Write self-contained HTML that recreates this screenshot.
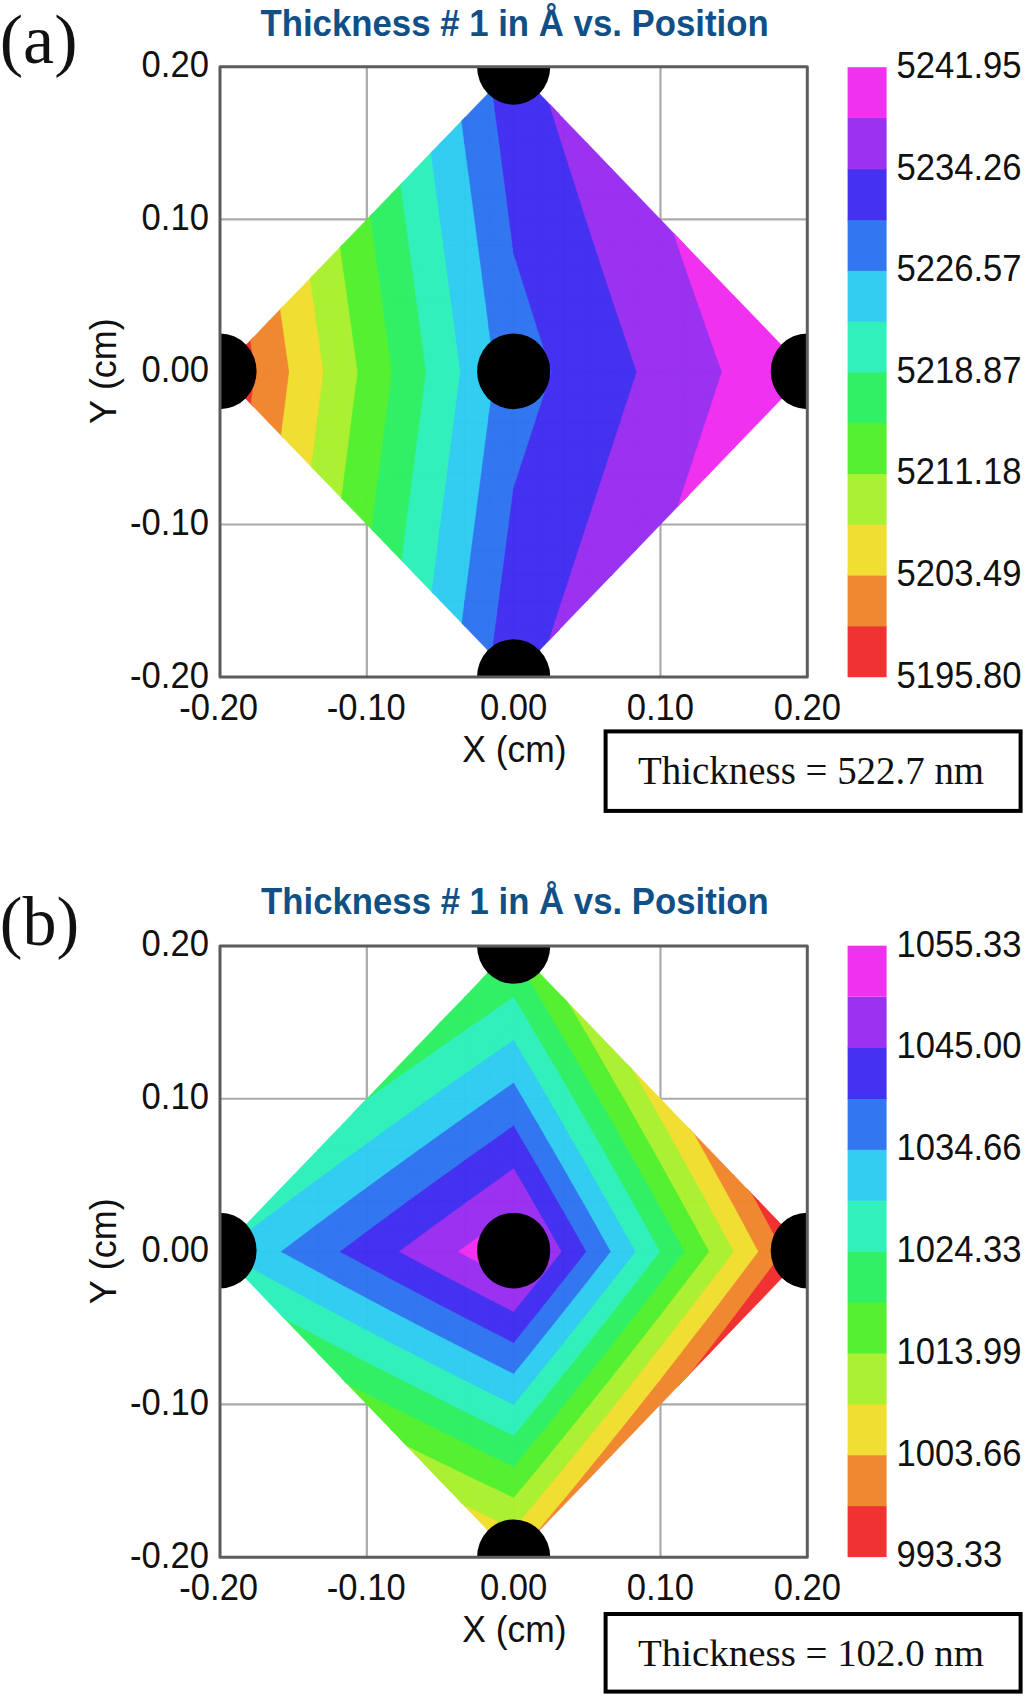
<!DOCTYPE html>
<html><head><meta charset="utf-8"><title>Thickness maps</title>
<style>html,body{margin:0;padding:0;background:#fff;overflow:hidden;}svg{display:block;}text{font-kerning:none;}</style></head>
<body><svg width="1025" height="1696" viewBox="0 0 1025 1696">
<rect width="1025" height="1696" fill="#fff"/>
<text x="0" y="0" font-family="'Liberation Sans', Arial, sans-serif" font-weight="bold" font-size="34.788" fill="#115086" transform="translate(260.41,35.50) scale(1,1.0445)">Thickness # 1 in Å vs. Position</text>
<text x="0" y="0" font-family="'Liberation Serif', 'Times New Roman', serif" font-weight="normal" font-size="70.061" fill="#111" transform="translate(-0.28,63.12) scale(1,1.0043)">(a)</text>
<line x1="366.82" y1="66.8" x2="366.82" y2="677.1" stroke="#aaaaaa" stroke-width="2.2"/>
<line x1="220" y1="219.38" x2="807.3" y2="219.38" stroke="#aaaaaa" stroke-width="2.2"/>
<line x1="513.65" y1="66.8" x2="513.65" y2="677.1" stroke="#aaaaaa" stroke-width="2.2"/>
<line x1="220" y1="371.95" x2="807.3" y2="371.95" stroke="#aaaaaa" stroke-width="2.2"/>
<line x1="660.47" y1="66.8" x2="660.47" y2="677.1" stroke="#aaaaaa" stroke-width="2.2"/>
<line x1="220" y1="524.52" x2="807.3" y2="524.52" stroke="#aaaaaa" stroke-width="2.2"/>
<path d="M257.8,371.9L244.5,371.9L256.1,359.9ZM244.5,371.9L244.5,346.5L254.1,346.5L256.1,359.9ZM254.1,346.5L244.5,346.5L252.9,337.8ZM244.5,371.9L220.0,371.9L244.5,346.5ZM256.3,384.2L244.5,371.9L257.8,371.9ZM254.6,397.4L244.5,397.4L244.5,371.9L256.3,384.2ZM244.5,371.9L244.5,397.4L220.0,371.9ZM253.4,406.7L244.5,397.4L254.6,397.4Z" fill="#f03232" stroke="#f03232" stroke-width="0.5" stroke-linejoin="round"/>
<path d="M292.1,371.9L268.9,371.9L289.1,351.0ZM268.9,371.9L268.9,346.5L288.4,346.5L289.1,351.0ZM288.4,346.5L268.9,346.5L285.9,328.9ZM268.9,346.5L268.9,321.1L284.7,321.1L285.9,328.9ZM284.7,321.1L268.9,321.1L282.7,306.8ZM268.9,371.9L255.1,371.9L253.7,362.3L268.9,346.5ZM251.4,346.5L268.9,346.5L253.7,362.3ZM268.9,346.5L251.4,346.5L250.5,340.3L268.9,321.1ZM289.4,393.2L268.9,371.9L292.1,371.9ZM288.8,397.4L268.9,397.4L268.9,371.9L289.4,393.2ZM268.9,371.9L268.9,397.4L253.9,381.7L255.1,371.9ZM268.9,397.4L251.9,397.4L253.9,381.7ZM286.5,415.6L268.9,397.4L288.8,397.4ZM285.6,422.8L268.9,422.8L268.9,397.4L286.5,415.6ZM268.9,397.4L268.9,422.8L251.0,404.2L251.9,397.4ZM283.6,438.1L268.9,422.8L285.6,422.8Z" fill="#f08832" stroke="#f08832" stroke-width="0.5" stroke-linejoin="round"/>
<path d="M326.3,371.9L317.9,371.9L325.2,364.3ZM317.9,371.9L317.9,346.5L322.7,346.5L325.2,364.3ZM322.7,346.5L317.9,346.5L322.1,342.2ZM317.9,346.5L317.9,321.1L319.1,321.1L322.1,342.2ZM319.1,321.1L317.9,321.1L318.9,320.0ZM317.9,321.1L317.9,312.7L318.9,320.0ZM317.9,371.9L293.4,371.9L317.9,346.5ZM293.4,371.9L293.4,346.5L317.9,346.5ZM317.9,346.5L293.4,346.5L317.9,321.1ZM293.4,346.5L293.4,321.1L317.9,321.1ZM317.9,321.1L293.4,321.1L315.8,297.9L317.9,312.7ZM293.4,321.1L293.4,295.7L315.5,295.7L315.8,297.9ZM315.5,295.7L293.4,295.7L312.6,275.7ZM293.4,371.9L289.3,371.9L286.7,353.5L293.4,346.5ZM285.7,346.5L293.4,346.5L286.7,353.5ZM293.4,346.5L285.7,346.5L283.5,331.4L293.4,321.1ZM282.0,321.1L293.4,321.1L283.5,331.4ZM293.4,321.1L282.0,321.1L280.3,309.3L293.4,295.7ZM325.3,379.7L317.9,371.9L326.3,371.9ZM323.0,397.4L317.9,397.4L317.9,371.9L325.3,379.7ZM317.9,371.9L317.9,397.4L293.4,371.9ZM317.9,397.4L293.4,397.4L293.4,371.9ZM293.4,371.9L293.4,397.4L286.9,390.7L289.3,371.9ZM293.4,397.4L286.1,397.4L286.9,390.7ZM322.4,402.1L317.9,397.4L323.0,397.4ZM319.8,422.8L317.9,422.8L317.9,397.4L322.4,402.1ZM317.9,397.4L317.9,422.8L293.4,397.4ZM317.9,422.8L293.4,422.8L293.4,397.4ZM293.4,397.4L293.4,422.8L284.1,413.1L286.1,397.4ZM293.4,422.8L282.8,422.8L284.1,413.1ZM319.5,424.5L317.9,422.8L319.8,422.8ZM317.9,437.5L317.9,422.8L319.5,424.5ZM317.9,422.8L317.9,437.5L316.7,447.0L293.4,422.8ZM316.5,448.2L293.4,448.2L293.4,422.8L316.7,447.0ZM293.4,422.8L293.4,448.2L281.2,435.6L282.8,422.8ZM313.8,469.4L293.4,448.2L316.5,448.2Z" fill="#f0de32" stroke="#f0de32" stroke-width="0.5" stroke-linejoin="round"/>
<path d="M360.5,371.9L342.4,371.9L358.2,355.5ZM342.4,371.9L342.4,346.5L357.0,346.5L358.2,355.5ZM357.0,346.5L342.4,346.5L355.1,333.2ZM342.4,346.5L342.4,321.1L353.4,321.1L355.1,333.2ZM353.4,321.1L342.4,321.1L352.0,311.0ZM342.4,321.1L342.4,295.7L349.9,295.7L352.0,311.0ZM349.9,295.7L342.4,295.7L348.9,288.8ZM342.4,295.7L342.4,270.2L346.3,270.2L348.9,288.8ZM346.3,270.2L342.4,270.2L345.8,266.7ZM342.4,270.2L342.4,244.8L342.7,244.8L345.8,266.7ZM342.7,244.8L342.4,244.8L342.6,244.5ZM342.4,371.9L323.6,371.9L322.8,366.8L342.4,346.5ZM320.0,346.5L342.4,346.5L322.8,366.8ZM342.4,346.5L320.0,346.5L319.7,344.6L342.4,321.1ZM317.9,332.0L317.9,321.1L342.4,321.1L319.7,344.6ZM342.4,321.1L317.9,321.1L342.4,295.7ZM317.9,321.1L317.9,295.7L342.4,295.7ZM342.4,295.7L317.9,295.7L342.4,270.2ZM317.9,295.7L317.9,270.2L342.4,270.2ZM342.4,270.2L317.9,270.2L342.4,244.8ZM316.5,322.5L317.9,321.1L317.9,332.0ZM316.3,321.1L317.9,321.1L316.5,322.5ZM317.9,321.1L316.3,321.1L313.4,300.3L317.9,295.7ZM312.7,295.7L317.9,295.7L313.4,300.3ZM317.9,295.7L312.7,295.7L310.2,278.2L317.9,270.2ZM358.4,388.6L342.4,371.9L360.5,371.9ZM357.2,397.4L342.4,397.4L342.4,371.9L358.4,388.6ZM342.4,371.9L342.4,397.4L322.9,377.1L323.6,371.9ZM342.4,397.4L320.3,397.4L322.9,377.1ZM355.5,411.0L342.4,397.4L357.2,397.4ZM354.0,422.8L342.4,422.8L342.4,397.4L355.5,411.0ZM342.4,397.4L342.4,422.8L320.0,399.6L320.3,397.4ZM342.4,422.8L317.9,422.8L317.9,416.2L320.0,399.6ZM317.9,416.2L317.9,422.8L317.1,422.0ZM317.9,422.8L317.0,422.8L317.1,422.0ZM352.6,433.4L342.4,422.8L354.0,422.8ZM350.7,448.2L342.4,448.2L342.4,422.8L352.6,433.4ZM342.4,422.8L342.4,448.2L317.9,422.8ZM342.4,448.2L317.9,448.2L317.9,422.8ZM317.9,422.8L317.9,448.2L314.3,444.5L317.0,422.8ZM317.9,448.2L313.8,448.2L314.3,444.5ZM349.7,455.9L342.4,448.2L350.7,448.2ZM347.4,473.7L342.4,473.7L342.4,448.2L349.7,455.9ZM342.4,448.2L342.4,473.7L317.9,448.2ZM342.4,473.7L317.9,473.7L317.9,448.2ZM317.9,448.2L317.9,473.7L311.4,466.9L313.8,448.2ZM346.8,478.3L342.4,473.7L347.4,473.7ZM344.2,499.1L342.4,499.1L342.4,473.7L346.8,478.3ZM342.4,473.7L342.4,499.1L317.9,473.7ZM343.9,500.7L342.4,499.1L344.2,499.1Z" fill="#abf032" stroke="#abf032" stroke-width="0.5" stroke-linejoin="round"/>
<path d="M394.7,371.9L391.3,371.9L394.3,368.8ZM391.3,371.9L391.3,346.8L394.3,368.8ZM391.3,371.9L366.8,371.9L391.3,346.6L391.3,346.8ZM366.8,371.9L366.8,346.5L391.3,346.5L391.3,346.6ZM391.3,346.5L366.8,346.5L388.2,324.3ZM366.8,346.5L366.8,321.1L387.8,321.1L388.2,324.3ZM387.8,321.1L366.8,321.1L385.2,302.0ZM366.8,321.1L366.8,295.7L384.3,295.7L385.2,302.0ZM384.3,295.7L366.8,295.7L382.1,279.8ZM366.8,295.7L366.8,270.2L380.7,270.2L382.1,279.8ZM380.7,270.2L366.8,270.2L379.0,257.6ZM366.8,270.2L366.8,244.8L377.2,244.8L379.0,257.6ZM377.2,244.8L366.8,244.8L375.9,235.4ZM366.8,244.8L366.8,219.4L373.7,219.4L375.9,235.4ZM373.7,219.4L366.8,219.4L372.8,213.1ZM366.8,371.9L357.8,371.9L355.8,357.9L366.8,346.5ZM354.2,346.5L366.8,346.5L355.8,357.9ZM366.8,346.5L354.2,346.5L352.7,335.7L366.8,321.1ZM350.7,321.1L366.8,321.1L352.7,335.7ZM366.8,321.1L350.7,321.1L349.6,313.5L366.8,295.7ZM347.1,295.7L366.8,295.7L349.6,313.5ZM366.8,295.7L347.1,295.7L346.5,291.3L366.8,270.2ZM343.5,270.2L366.8,270.2L346.5,291.3ZM366.8,270.2L343.5,270.2L343.4,269.2L366.8,244.8ZM342.4,261.9L342.4,244.8L366.8,244.8L343.4,269.2ZM366.8,244.8L342.4,244.8L366.8,219.4ZM340.2,247.0L342.4,244.8L342.4,261.9ZM394.3,375.1L391.3,371.9L394.7,371.9ZM391.4,397.4L391.3,397.4L391.3,371.9L394.3,375.1ZM391.3,371.9L391.3,397.4L366.8,371.9ZM391.3,397.4L366.8,397.4L366.8,371.9ZM366.8,371.9L366.8,397.4L356.0,386.1L357.8,371.9ZM366.8,397.4L354.5,397.4L356.0,386.1ZM391.4,397.5L391.3,397.4L391.4,397.4ZM391.3,398.6L391.3,397.4L391.4,397.5ZM391.3,397.4L391.3,398.6L388.5,419.9L366.8,397.4ZM388.2,422.8L366.8,422.8L366.8,397.4L388.5,419.9ZM366.8,397.4L366.8,422.8L353.1,408.5L354.5,397.4ZM366.8,422.8L351.2,422.8L353.1,408.5ZM385.6,442.4L366.8,422.8L388.2,422.8ZM384.9,448.2L366.8,448.2L366.8,422.8L385.6,442.4ZM366.8,422.8L366.8,448.2L350.2,430.9L351.2,422.8ZM366.8,448.2L348.0,448.2L350.2,430.9ZM382.7,464.8L366.8,448.2L384.9,448.2ZM381.6,473.7L366.8,473.7L366.8,448.2L382.7,464.8ZM366.8,448.2L366.8,473.7L347.3,453.4L348.0,448.2ZM366.8,473.7L344.7,473.7L347.3,453.4ZM379.8,487.2L366.8,473.7L381.6,473.7ZM378.3,499.1L366.8,499.1L366.8,473.7L379.8,487.2ZM366.8,473.7L366.8,499.1L344.4,475.8L344.7,473.7ZM366.8,499.1L342.4,499.1L342.4,491.8L344.4,475.8ZM342.4,491.8L342.4,499.1L341.5,498.2ZM377.0,509.6L366.8,499.1L378.3,499.1ZM375.0,524.5L366.8,524.5L366.8,499.1L377.0,509.6ZM366.8,499.1L366.8,524.5L342.4,499.1ZM374.1,532.0L366.8,524.5L375.0,524.5Z" fill="#55f032" stroke="#55f032" stroke-width="0.5" stroke-linejoin="round"/>
<path d="M429.0,371.9L415.8,371.9L427.4,359.9ZM415.8,371.9L415.8,346.5L425.5,346.5L427.4,359.9ZM425.5,346.5L415.8,346.5L424.3,337.6ZM415.8,346.5L415.8,321.1L422.1,321.1L424.3,337.6ZM422.1,321.1L415.8,321.1L421.3,315.3ZM415.8,321.1L415.8,295.7L418.7,295.7L421.3,315.3ZM418.7,295.7L415.8,295.7L418.3,293.0ZM415.8,295.7L415.8,274.3L418.3,293.0ZM415.8,371.9L392.0,371.9L391.9,371.3L415.8,346.5ZM391.3,366.8L391.3,346.5L415.8,346.5L391.9,371.3ZM415.8,346.5L391.3,346.5L415.8,321.1ZM391.3,346.5L391.3,321.1L415.8,321.1ZM415.8,321.1L391.3,321.1L415.8,295.7ZM391.3,321.1L391.3,295.7L415.8,295.7ZM415.8,295.7L391.3,295.7L415.3,270.7L415.8,274.3ZM391.3,295.7L391.3,270.2L415.2,270.2L415.3,270.7ZM415.2,270.2L391.3,270.2L412.3,248.5ZM391.3,270.2L391.3,244.8L411.7,244.8L412.3,248.5ZM411.7,244.8L391.3,244.8L409.2,226.2ZM391.3,244.8L391.3,219.4L408.3,219.4L409.2,226.2ZM408.3,219.4L391.3,219.4L406.2,203.9ZM391.3,219.4L391.3,193.9L404.8,193.9L406.2,203.9ZM404.8,193.9L391.3,193.9L403.1,181.7ZM388.9,349.0L391.3,346.5L391.3,366.8ZM388.5,346.5L391.3,346.5L388.9,349.0ZM391.3,346.5L388.5,346.5L385.8,326.8L391.3,321.1ZM385.0,321.1L391.3,321.1L385.8,326.8ZM391.3,321.1L385.0,321.1L382.7,304.5L391.3,295.7ZM381.5,295.7L391.3,295.7L382.7,304.5ZM391.3,295.7L381.5,295.7L379.7,282.3L391.3,270.2ZM378.0,270.2L391.3,270.2L379.7,282.3ZM391.3,270.2L378.0,270.2L376.6,260.1L391.3,244.8ZM374.5,244.8L391.3,244.8L376.6,260.1ZM391.3,244.8L374.5,244.8L373.5,237.9L391.3,219.4ZM370.9,219.4L391.3,219.4L373.5,237.9ZM391.3,219.4L370.9,219.4L370.4,215.7L391.3,193.9ZM427.4,384.0L415.8,371.9L429.0,371.9ZM425.7,397.4L415.8,397.4L415.8,371.9L427.4,384.0ZM415.8,371.9L415.8,397.4L391.9,372.6L392.0,371.9ZM415.8,397.4L391.3,397.4L391.3,377.4L391.9,372.6ZM391.3,377.4L391.3,397.4L389.0,395.0ZM391.3,397.4L388.7,397.4L389.0,395.0ZM424.5,406.4L415.8,397.4L425.7,397.4ZM422.4,422.8L415.8,422.8L415.8,397.4L424.5,406.4ZM415.8,397.4L415.8,422.8L391.3,397.4ZM415.8,422.8L391.3,422.8L391.3,397.4ZM391.3,397.4L391.3,422.8L386.1,417.4L388.7,397.4ZM391.3,422.8L385.4,422.8L386.1,417.4ZM421.6,428.8L415.8,422.8L422.4,422.8ZM419.1,448.2L415.8,448.2L415.8,422.8L421.6,428.8ZM415.8,422.8L415.8,448.2L391.3,422.8ZM415.8,448.2L391.3,448.2L391.3,422.8ZM391.3,422.8L391.3,448.2L383.2,439.8L385.4,422.8ZM391.3,448.2L382.1,448.2L383.2,439.8ZM418.7,451.2L415.8,448.2L419.1,448.2ZM415.8,473.6L415.8,448.2L418.7,451.2ZM415.8,448.2L415.8,473.6L415.8,473.7L391.3,448.2ZM415.8,473.7L391.3,473.7L391.3,448.2L415.8,473.7ZM391.3,448.2L391.3,473.7L380.3,462.3L382.1,448.2ZM391.3,473.7L378.9,473.7L380.3,462.3ZM412.9,496.1L391.3,473.7L415.8,473.7ZM412.5,499.1L391.3,499.1L391.3,473.7L412.9,496.1ZM391.3,473.7L391.3,499.1L377.4,484.7L378.9,473.7ZM391.3,499.1L375.6,499.1L377.4,484.7ZM410.0,518.5L391.3,499.1L412.5,499.1ZM409.2,524.5L391.3,524.5L391.3,499.1L410.0,518.5ZM391.3,499.1L391.3,524.5L374.5,507.1L375.6,499.1ZM391.3,524.5L372.3,524.5L374.5,507.1ZM407.1,540.9L391.3,524.5L409.2,524.5ZM405.9,550.0L391.3,550.0L391.3,524.5L407.1,540.9ZM391.3,524.5L391.3,550.0L371.7,529.5L372.3,524.5ZM404.2,563.3L391.3,550.0L405.9,550.0Z" fill="#32f066" stroke="#32f066" stroke-width="0.5" stroke-linejoin="round"/>
<path d="M463.2,371.9L440.2,371.9L460.4,351.0ZM440.2,371.9L440.2,346.5L459.8,346.5L460.4,351.0ZM459.8,346.5L440.2,346.5L457.5,328.6ZM440.2,346.5L440.2,321.1L456.5,321.1L457.5,328.6ZM456.5,321.1L440.2,321.1L454.5,306.3ZM440.2,321.1L440.2,295.7L453.1,295.7L454.5,306.3ZM453.1,295.7L440.2,295.7L451.5,283.9ZM440.2,295.7L440.2,270.2L449.7,270.2L451.5,283.9ZM449.7,270.2L440.2,270.2L448.5,261.6ZM440.2,270.2L440.2,244.8L446.3,244.8L448.5,261.6ZM446.3,244.8L440.2,244.8L445.5,239.3ZM440.2,244.8L440.2,219.4L442.9,219.4L445.5,239.3ZM442.9,219.4L440.2,219.4L442.5,217.0ZM440.2,219.4L440.2,200.0L442.5,217.0ZM440.2,371.9L426.2,371.9L424.9,362.4L440.2,346.5ZM422.8,346.5L440.2,346.5L424.9,362.4ZM440.2,346.5L422.8,346.5L421.9,340.1L440.2,321.1ZM419.4,321.1L440.2,321.1L421.9,340.1ZM440.2,321.1L419.4,321.1L418.9,317.8L440.2,295.7ZM415.9,295.7L440.2,295.7L418.9,317.8ZM440.2,295.7L415.9,295.7L415.9,295.5L440.2,270.2ZM415.8,294.6L415.8,270.2L440.2,270.2L415.9,295.5ZM440.2,270.2L415.8,270.2L440.2,244.8ZM415.8,270.2L415.8,244.8L440.2,244.8ZM440.2,244.8L415.8,244.8L440.2,219.4ZM415.8,244.8L415.8,219.4L440.2,219.4ZM440.2,219.4L415.8,219.4L439.5,194.7L440.2,200.0ZM415.8,219.4L415.8,193.9L439.4,193.9L439.5,194.7ZM439.4,193.9L415.8,193.9L436.5,172.4ZM415.8,193.9L415.8,168.5L436.0,168.5L436.5,172.4ZM436.0,168.5L415.8,168.5L433.5,150.1ZM412.9,273.2L415.8,270.2L415.8,294.6ZM412.5,270.2L415.8,270.2L412.9,273.2ZM415.8,270.2L412.5,270.2L409.8,251.0L415.8,244.8ZM409.0,244.8L415.8,244.8L409.8,251.0ZM415.8,244.8L409.0,244.8L406.8,228.7L415.8,219.4ZM405.5,219.4L415.8,219.4L406.8,228.7ZM415.8,219.4L405.5,219.4L403.7,206.5L415.8,193.9ZM402.0,193.9L415.8,193.9L403.7,206.5ZM415.8,193.9L402.0,193.9L400.7,184.2L415.8,168.5ZM460.4,392.9L440.2,371.9L463.2,371.9ZM459.9,397.4L440.2,397.4L440.2,371.9L460.4,392.9ZM440.2,371.9L440.2,397.4L425.0,381.5L426.2,371.9ZM440.2,397.4L422.9,397.4L425.0,381.5ZM457.5,415.3L440.2,397.4L459.9,397.4ZM456.6,422.8L440.2,422.8L440.2,397.4L457.5,415.3ZM440.2,397.4L440.2,422.8L422.1,403.9L422.9,397.4ZM440.2,422.8L419.6,422.8L422.1,403.9ZM454.6,437.7L440.2,422.8L456.6,422.8ZM453.2,448.2L440.2,448.2L440.2,422.8L454.6,437.7ZM440.2,422.8L440.2,448.2L419.2,426.3L419.6,422.8ZM440.2,448.2L416.3,448.2L419.2,426.3ZM451.7,460.1L440.2,448.2L453.2,448.2ZM449.9,473.7L440.2,473.7L440.2,448.2L451.7,460.1ZM440.2,448.2L440.2,473.7L416.3,448.7L416.3,448.2ZM440.2,473.7L415.8,473.7L415.8,452.5L416.3,448.7ZM415.8,452.5L415.8,473.7L413.4,471.2ZM415.8,473.7L413.0,473.7L413.4,471.2ZM448.8,482.5L440.2,473.7L449.9,473.7ZM446.6,499.1L440.2,499.1L440.2,473.7L448.8,482.5ZM440.2,473.7L440.2,499.1L415.8,473.7ZM440.2,499.1L415.8,499.1L415.8,473.7ZM415.8,473.7L415.8,499.1L410.4,493.6L413.0,473.7ZM415.8,499.1L409.7,499.1L410.4,493.6ZM445.9,504.9L440.2,499.1L446.6,499.1ZM443.3,524.5L440.2,524.5L440.2,499.1L445.9,504.9ZM440.2,499.1L440.2,524.5L415.8,499.1ZM440.2,524.5L415.8,524.5L415.8,499.1ZM415.8,499.1L415.8,524.5L407.5,516.0L409.7,499.1ZM415.8,524.5L406.4,524.5L407.5,516.0ZM443.0,527.3L440.2,524.5L443.3,524.5ZM440.2,548.3L440.2,524.5L443.0,527.3ZM440.2,524.5L440.2,548.3L440.0,549.8L415.8,524.5ZM440.0,550.0L415.8,550.0L415.8,524.5L440.0,549.8ZM415.8,524.5L415.8,550.0L404.6,538.4L406.4,524.5ZM415.8,550.0L403.2,550.0L404.6,538.4ZM437.1,572.2L415.8,550.0L440.0,550.0ZM436.7,575.4L415.8,575.4L415.8,550.0L437.1,572.2ZM415.8,550.0L415.8,575.4L401.8,560.8L403.2,550.0ZM434.2,594.6L415.8,575.4L436.7,575.4Z" fill="#32f0bc" stroke="#32f0bc" stroke-width="0.5" stroke-linejoin="round"/>
<path d="M497.4,371.9L489.2,371.9L496.4,364.4ZM489.2,371.9L489.2,346.5L494.1,346.5L496.4,364.4ZM494.1,346.5L489.2,346.5L493.5,342.0ZM489.2,346.5L489.2,321.1L490.8,321.1L493.5,342.0ZM490.8,321.1L489.2,321.1L490.6,319.6ZM489.2,321.1L489.2,308.7L490.6,319.6ZM489.2,371.9L464.7,371.9L489.2,346.5ZM464.7,371.9L464.7,346.5L489.2,346.5ZM489.2,346.5L464.7,346.5L489.2,321.1ZM464.7,346.5L464.7,321.1L489.2,321.1ZM489.2,321.1L464.7,321.1L487.7,297.2L489.2,308.7ZM464.7,321.1L464.7,295.7L487.5,295.7L487.7,297.2ZM487.5,295.7L464.7,295.7L484.8,274.8ZM464.7,295.7L464.7,270.2L484.1,270.2L484.8,274.8ZM484.1,270.2L464.7,270.2L481.8,252.5ZM464.7,270.2L464.7,244.8L480.8,244.8L481.8,252.5ZM480.8,244.8L464.7,244.8L478.9,230.1ZM464.7,244.8L464.7,219.4L477.4,219.4L478.9,230.1ZM477.4,219.4L464.7,219.4L475.9,207.7ZM464.7,219.4L464.7,193.9L474.1,193.9L475.9,207.7ZM474.1,193.9L464.7,193.9L472.9,185.4ZM464.7,193.9L464.7,168.5L470.7,168.5L472.9,185.4ZM470.7,168.5L464.7,168.5L470.0,163.0ZM464.7,168.5L464.7,143.1L467.3,143.1L470.0,163.0ZM467.3,143.1L464.7,143.1L467.0,140.7ZM464.7,143.1L464.7,123.7L467.0,140.7ZM464.7,371.9L460.4,371.9L458.0,353.5L464.7,346.5ZM457.1,346.5L464.7,346.5L458.0,353.5ZM464.7,346.5L457.1,346.5L455.1,331.1L464.7,321.1ZM453.7,321.1L464.7,321.1L455.1,331.1ZM464.7,321.1L453.7,321.1L452.1,308.8L464.7,295.7ZM450.3,295.7L464.7,295.7L452.1,308.8ZM464.7,295.7L450.3,295.7L449.1,286.5L464.7,270.2ZM446.9,270.2L464.7,270.2L449.1,286.5ZM464.7,270.2L446.9,270.2L446.1,264.1L464.7,244.8ZM443.5,244.8L464.7,244.8L446.1,264.1ZM464.7,244.8L443.5,244.8L443.1,241.8L464.7,219.4ZM440.2,220.5L440.2,219.4L464.7,219.4L443.1,241.8ZM464.7,219.4L440.2,219.4L464.7,193.9ZM440.2,219.4L440.2,193.9L464.7,193.9ZM464.7,193.9L440.2,193.9L464.7,168.5ZM440.2,193.9L440.2,168.5L464.7,168.5ZM464.7,168.5L440.2,168.5L464.7,143.1ZM440.2,168.5L440.2,143.1L464.7,143.1ZM464.7,143.1L440.2,143.1L464.0,118.4L464.7,123.7ZM440.1,219.5L440.2,219.4L440.2,220.5ZM440.1,219.4L440.2,219.4L440.1,219.5ZM440.2,219.4L440.1,219.4L437.1,197.2L440.2,193.9ZM436.7,193.9L440.2,193.9L437.1,197.2ZM440.2,193.9L436.7,193.9L434.1,174.9L440.2,168.5ZM433.2,168.5L440.2,168.5L434.1,174.9ZM440.2,168.5L433.2,168.5L431.1,152.6L440.2,143.1ZM496.4,379.5L489.2,371.9L497.4,371.9ZM494.1,397.4L489.2,397.4L489.2,371.9L496.4,379.5ZM489.2,371.9L489.2,397.4L464.7,371.9ZM489.2,397.4L464.7,397.4L464.7,371.9ZM464.7,371.9L464.7,397.4L458.0,390.4L460.4,371.9ZM464.7,397.4L457.1,397.4L458.0,390.4ZM493.5,401.9L489.2,397.4L494.1,397.4ZM490.7,422.8L489.2,422.8L489.2,397.4L493.5,401.9ZM489.2,397.4L489.2,422.8L464.7,397.4ZM489.2,422.8L464.7,422.8L464.7,397.4ZM464.7,397.4L464.7,422.8L455.1,412.8L457.1,397.4ZM464.7,422.8L453.8,422.8L455.1,412.8ZM490.6,424.2L489.2,422.8L490.7,422.8ZM489.2,434.8L489.2,422.8L490.6,424.2ZM489.2,422.8L489.2,434.8L487.6,446.6L464.7,422.8ZM487.4,448.2L464.7,448.2L464.7,422.8L487.6,446.6ZM464.7,422.8L464.7,448.2L452.2,435.2L453.8,422.8ZM464.7,448.2L450.5,448.2L452.2,435.2ZM484.7,469.0L464.7,448.2L487.4,448.2ZM484.1,473.7L464.7,473.7L464.7,448.2L484.7,469.0ZM464.7,448.2L464.7,473.7L449.3,457.6L450.5,448.2ZM464.7,473.7L447.2,473.7L449.3,457.6ZM481.8,491.4L464.7,473.7L484.1,473.7ZM480.8,499.1L464.7,499.1L464.7,473.7L481.8,491.4ZM464.7,473.7L464.7,499.1L446.4,480.0L447.2,473.7ZM464.7,499.1L443.9,499.1L446.4,480.0ZM478.9,513.8L464.7,499.1L480.8,499.1ZM477.5,524.5L464.7,524.5L464.7,499.1L478.9,513.8ZM464.7,499.1L464.7,524.5L443.5,502.4L443.9,499.1ZM464.7,524.5L440.6,524.5L443.5,502.4ZM475.9,536.2L464.7,524.5L477.5,524.5ZM474.2,550.0L464.7,550.0L464.7,524.5L475.9,536.2ZM464.7,524.5L464.7,550.0L440.5,524.8L440.6,524.5ZM464.7,550.0L440.2,550.0L440.2,527.2L440.5,524.8ZM440.2,527.2L440.2,550.0L437.6,547.3ZM440.2,550.0L437.3,550.0L437.6,547.3ZM473.0,558.6L464.7,550.0L474.2,550.0ZM470.8,575.4L464.7,575.4L464.7,550.0L473.0,558.6ZM464.7,550.0L464.7,575.4L440.2,550.0ZM464.7,575.4L440.2,575.4L440.2,550.0ZM440.2,550.0L440.2,575.4L434.7,569.7L437.3,550.0ZM440.2,575.4L434.0,575.4L434.7,569.7ZM470.1,581.0L464.7,575.4L470.8,575.4ZM467.5,600.8L464.7,600.8L464.7,575.4L470.1,581.0ZM464.7,575.4L464.7,600.8L440.2,575.4ZM464.7,600.8L440.2,600.8L440.2,575.4ZM440.2,575.4L440.2,600.8L431.8,592.1L434.0,575.4ZM467.2,603.4L464.7,600.8L467.5,600.8ZM464.7,622.5L464.7,600.8L467.2,603.4ZM464.7,600.8L464.7,622.5L464.3,625.8L440.2,600.8Z" fill="#32cdf0" stroke="#32cdf0" stroke-width="0.5" stroke-linejoin="round"/>
<path d="M513.6,371.9L494.7,371.9L494.0,366.9L513.6,346.5ZM491.4,346.5L513.6,346.5L494.0,366.9ZM513.6,346.5L491.4,346.5L491.1,344.5L513.6,321.1ZM489.2,329.7L489.2,321.1L513.6,321.1L491.1,344.5ZM513.6,321.1L489.2,321.1L513.6,295.7ZM489.2,321.1L489.2,295.7L513.6,295.7ZM513.6,295.7L489.2,295.7L513.6,270.2ZM489.2,295.7L489.2,270.2L513.6,270.2ZM513.6,270.2L489.2,270.2L513.6,244.8ZM489.2,270.2L489.2,244.8L513.6,244.8ZM513.6,244.8L489.2,244.8L512.2,220.9L513.6,231.8ZM489.2,244.8L489.2,219.4L512.0,219.4L512.2,220.9ZM512.0,219.4L489.2,219.4L509.3,198.4ZM489.2,219.4L489.2,193.9L508.7,193.9L509.3,198.4ZM508.7,193.9L489.2,193.9L506.4,176.0ZM489.2,193.9L489.2,168.5L505.4,168.5L506.4,176.0ZM505.4,168.5L489.2,168.5L503.5,153.7ZM489.2,168.5L489.2,143.1L502.1,143.1L503.5,153.7ZM502.1,143.1L489.2,143.1L500.5,131.3ZM489.2,143.1L489.2,117.7L498.7,117.7L500.5,131.3ZM498.7,117.7L489.2,117.7L497.6,108.9ZM489.2,117.7L489.2,92.2L495.4,92.2L497.6,108.9ZM495.4,92.2L489.2,92.2L494.6,86.6ZM488.2,322.1L489.2,321.1L489.2,329.7ZM488.1,321.1L489.2,321.1L488.2,322.1ZM489.2,321.1L488.1,321.1L485.3,299.7L489.2,295.7ZM484.7,295.7L489.2,295.7L485.3,299.7ZM489.2,295.7L484.7,295.7L482.3,277.3L489.2,270.2ZM481.4,270.2L489.2,270.2L482.3,277.3ZM489.2,270.2L481.4,270.2L479.4,255.0L489.2,244.8ZM478.0,244.8L489.2,244.8L479.4,255.0ZM489.2,244.8L478.0,244.8L476.4,232.6L489.2,219.4ZM474.7,219.4L489.2,219.4L476.4,232.6ZM489.2,219.4L474.7,219.4L473.5,210.3L489.2,193.9ZM471.3,193.9L489.2,193.9L473.5,210.3ZM489.2,193.9L471.3,193.9L470.5,187.9L489.2,168.5ZM467.9,168.5L489.2,168.5L470.5,187.9ZM489.2,168.5L467.9,168.5L467.5,165.6L489.2,143.1ZM464.7,144.5L464.7,143.1L489.2,143.1L467.5,165.6ZM489.2,143.1L464.7,143.1L489.2,117.7ZM464.7,143.1L464.7,117.7L489.2,117.7ZM489.2,117.7L464.7,117.7L489.2,92.2ZM464.5,143.3L464.7,143.1L464.7,144.5ZM464.5,143.1L464.7,143.1L464.5,143.3ZM464.7,143.1L464.5,143.1L461.6,120.9L464.7,117.7ZM513.6,371.9L513.6,346.5L538.1,371.9ZM513.6,346.5L538.1,346.5L538.1,371.9ZM538.1,371.9L538.1,346.5L556.3,365.4L558.4,371.9ZM538.1,346.5L550.1,346.5L556.3,365.4ZM513.6,346.5L513.6,321.1L538.1,346.5ZM513.6,321.1L538.1,321.1L538.1,346.5ZM538.1,346.5L538.1,321.1L543.8,327.0L550.1,346.5ZM538.1,321.1L541.9,321.1L543.8,327.0ZM513.6,321.1L513.6,295.7L538.1,321.1ZM513.6,295.7L533.8,295.7L538.1,309.3L538.1,321.1ZM538.1,321.1L538.1,309.3L541.9,321.1ZM513.6,295.7L513.6,270.2L531.6,288.9L533.8,295.7ZM513.6,270.2L525.7,270.2L531.6,288.9ZM513.6,270.2L513.6,244.8L519.7,251.1L525.7,270.2ZM513.6,244.8L517.7,244.8L519.7,251.1ZM513.6,244.8L513.6,231.8L517.7,244.8ZM513.6,371.9L538.1,371.9L513.6,397.4ZM538.1,371.9L538.1,397.4L513.6,397.4ZM513.6,397.4L538.1,397.4L513.6,422.8ZM538.1,397.4L538.1,422.8L513.6,422.8ZM513.6,422.8L538.1,422.8L513.6,448.2ZM538.1,422.8L538.1,434.0L533.5,448.2L513.6,448.2ZM513.6,448.2L533.5,448.2L531.1,455.6L513.6,473.7ZM525.2,473.7L513.6,473.7L531.1,455.6ZM513.6,473.7L525.2,473.7L518.5,494.0L513.6,499.1ZM516.9,499.1L513.6,499.1L518.5,494.0ZM513.6,499.1L516.9,499.1L513.6,508.9ZM538.1,371.9L558.4,371.9L556.3,378.5L538.1,397.4ZM550.1,397.4L538.1,397.4L556.3,378.5ZM538.1,397.4L550.1,397.4L543.7,417.0L538.1,422.8ZM541.8,422.8L538.1,422.8L543.7,417.0ZM538.1,422.8L541.8,422.8L538.1,434.0ZM513.6,371.9L513.6,397.4L494.0,377.0L494.7,371.9ZM513.6,397.4L491.3,397.4L494.0,377.0ZM513.6,397.4L513.6,422.8L491.1,399.4L491.3,397.4ZM513.6,422.8L489.2,422.8L489.2,413.9L491.1,399.4ZM489.2,413.9L489.2,422.8L488.2,421.7ZM489.2,422.8L488.0,422.8L488.2,421.7ZM513.6,422.8L513.6,448.2L489.2,422.8ZM513.6,448.2L489.2,448.2L489.2,422.8ZM489.2,422.8L489.2,448.2L485.2,444.1L488.0,422.8ZM489.2,448.2L484.7,448.2L485.2,444.1ZM513.6,448.2L513.6,473.7L489.2,448.2ZM513.6,473.7L489.2,473.7L489.2,448.2ZM489.2,448.2L489.2,473.7L482.3,466.5L484.7,448.2ZM489.2,473.7L481.4,473.7L482.3,466.5ZM513.6,473.7L513.6,499.1L489.2,473.7ZM513.6,499.1L489.2,499.1L489.2,473.7ZM489.2,473.7L489.2,499.1L479.4,488.9L481.4,473.7ZM489.2,499.1L478.0,499.1L479.4,488.9ZM513.6,499.1L513.6,508.9L511.9,522.7L489.2,499.1ZM511.6,524.5L489.2,524.5L489.2,499.1L511.9,522.7ZM489.2,499.1L489.2,524.5L476.5,511.3L478.0,499.1ZM489.2,524.5L474.7,524.5L476.5,511.3ZM508.9,545.0L489.2,524.5L511.6,524.5ZM508.3,550.0L489.2,550.0L489.2,524.5L508.9,545.0ZM489.2,524.5L489.2,550.0L473.5,533.7L474.7,524.5ZM489.2,550.0L471.4,550.0L473.5,533.7ZM506.0,567.4L489.2,550.0L508.3,550.0ZM505.0,575.4L489.2,575.4L489.2,550.0L506.0,567.4ZM489.2,550.0L489.2,575.4L470.6,556.1L471.4,550.0ZM489.2,575.4L468.1,575.4L470.6,556.1ZM503.1,589.8L489.2,575.4L505.0,575.4ZM501.6,600.8L489.2,600.8L489.2,575.4L503.1,589.8ZM489.2,575.4L489.2,600.8L467.7,578.5L468.1,575.4ZM489.2,600.8L464.8,600.8L467.7,578.5ZM500.1,612.2L489.2,600.8L501.6,600.8ZM498.3,626.2L489.2,626.2L489.2,600.8L500.1,612.2ZM489.2,600.8L489.2,626.2L464.8,600.9L464.8,600.8ZM489.2,626.2L464.7,626.2L464.7,601.5L464.8,600.9ZM464.7,601.5L464.7,626.2L461.9,623.3ZM497.2,634.6L489.2,626.2L498.3,626.2ZM495.0,651.7L489.2,651.7L489.2,626.2L497.2,634.6ZM489.2,626.2L489.2,651.7L464.7,626.2ZM494.3,657.0L489.2,651.7L495.0,651.7Z" fill="#3277f0" stroke="#3277f0" stroke-width="0.5" stroke-linejoin="round"/>
<path d="M512.7,245.8L513.6,244.8L513.6,253.2ZM512.6,244.8L513.6,244.8L512.7,245.8ZM513.6,244.8L512.6,244.8L509.8,223.4L513.6,219.4ZM509.3,219.4L513.6,219.4L509.8,223.4ZM513.6,219.4L509.3,219.4L506.9,201.0L513.6,193.9ZM506.0,193.9L513.6,193.9L506.9,201.0ZM513.6,193.9L506.0,193.9L504.0,178.6L513.6,168.5ZM502.6,168.5L513.6,168.5L504.0,178.6ZM513.6,168.5L502.6,168.5L501.0,156.2L513.6,143.1ZM499.3,143.1L513.6,143.1L501.0,156.2ZM513.6,143.1L499.3,143.1L498.1,133.8L513.6,117.7ZM495.9,117.7L513.6,117.7L498.1,133.8ZM513.6,117.7L495.9,117.7L495.1,111.5L513.6,92.2ZM492.6,92.2L513.6,92.2L495.1,111.5ZM513.6,92.2L492.6,92.2L492.2,89.1L513.6,66.8ZM546.0,354.7L562.6,371.9L551.6,371.9ZM543.3,346.5L562.6,346.5L562.6,371.9L546.0,354.7ZM562.6,371.9L562.6,346.5L587.1,371.9ZM562.6,346.5L587.1,346.5L587.1,371.9ZM587.1,371.9L587.1,346.5L611.5,371.9ZM587.1,346.5L611.5,346.5L611.5,371.9ZM611.5,371.9L611.5,346.5L636.0,371.9ZM611.5,346.5L635.0,346.5L636.0,349.6L636.0,371.9ZM636.0,371.9L636.0,349.6L643.7,371.9ZM535.1,321.1L538.1,321.1L538.1,330.4ZM538.1,330.4L538.1,321.1L562.6,346.5L543.3,346.5ZM538.1,321.1L562.6,321.1L562.6,346.5ZM562.6,346.5L562.6,321.1L587.1,346.5ZM562.6,321.1L587.1,321.1L587.1,346.5ZM587.1,346.5L587.1,321.1L611.5,346.5ZM587.1,321.1L611.5,321.1L611.5,346.5ZM611.5,346.5L611.5,321.1L634.4,344.8L635.0,346.5ZM611.5,321.1L626.3,321.1L634.4,344.8ZM533.7,316.5L538.1,321.1L535.1,321.1ZM527.0,295.7L538.1,295.7L538.1,321.1L533.7,316.5ZM538.1,321.1L538.1,295.7L562.6,321.1ZM538.1,295.7L562.6,295.7L562.6,321.1ZM562.6,321.1L562.6,295.7L587.1,321.1ZM562.6,295.7L587.1,295.7L587.1,321.1ZM587.1,321.1L587.1,295.7L611.5,321.1ZM587.1,295.7L611.5,295.7L611.5,321.1ZM611.5,321.1L611.5,295.7L621.2,305.7L626.3,321.1ZM611.5,295.7L617.8,295.7L621.2,305.7ZM521.6,278.5L538.1,295.7L527.0,295.7ZM519.0,270.2L538.1,270.2L538.1,295.7L521.6,278.5ZM538.1,295.7L538.1,270.2L562.6,295.7ZM538.1,270.2L562.6,270.2L562.6,295.7ZM562.6,295.7L562.6,270.2L587.1,295.7ZM562.6,270.2L587.1,270.2L587.1,295.7ZM587.1,295.7L587.1,270.2L611.5,295.7ZM587.1,270.2L609.3,270.2L611.5,276.8L611.5,295.7ZM611.5,295.7L611.5,276.8L617.8,295.7ZM513.6,253.2L513.6,244.8L538.1,270.2L519.0,270.2ZM513.6,244.8L538.1,244.8L538.1,270.2ZM538.1,270.2L538.1,244.8L562.6,270.2ZM538.1,244.8L562.6,244.8L562.6,270.2ZM562.6,270.2L562.6,244.8L587.1,270.2ZM562.6,244.8L587.1,244.8L587.1,270.2ZM587.1,270.2L587.1,244.8L608.2,266.8L609.3,270.2ZM587.1,244.8L601.0,244.8L608.2,266.8ZM513.6,244.8L513.6,219.4L538.1,244.8ZM513.6,219.4L538.1,219.4L538.1,244.8ZM538.1,244.8L538.1,219.4L562.6,244.8ZM538.1,219.4L562.6,219.4L562.6,244.8ZM562.6,244.8L562.6,219.4L587.1,244.8ZM562.6,219.4L587.1,219.4L587.1,244.8ZM587.1,244.8L587.1,219.4L595.6,228.2L601.0,244.8ZM587.1,219.4L592.7,219.4L595.6,228.2ZM513.6,219.4L513.6,193.9L538.1,219.4ZM513.6,193.9L538.1,193.9L538.1,219.4ZM538.1,219.4L538.1,193.9L562.6,219.4ZM538.1,193.9L562.6,193.9L562.6,219.4ZM562.6,219.4L562.6,193.9L587.1,219.4ZM562.6,193.9L584.4,193.9L587.1,202.1L587.1,219.4ZM587.1,219.4L587.1,202.1L592.7,219.4ZM513.6,193.9L513.6,168.5L538.1,193.9ZM513.6,168.5L538.1,168.5L538.1,193.9ZM538.1,193.9L538.1,168.5L562.6,193.9ZM538.1,168.5L562.6,168.5L562.6,193.9ZM562.6,193.9L562.6,168.5L583.1,189.9L584.4,193.9ZM562.6,168.5L576.3,168.5L583.1,189.9ZM513.6,168.5L513.6,143.1L538.1,168.5ZM513.6,143.1L538.1,143.1L538.1,168.5ZM538.1,168.5L538.1,143.1L562.6,168.5ZM538.1,143.1L562.6,143.1L562.6,168.5ZM562.6,168.5L562.6,143.1L571.0,151.8L576.3,168.5ZM562.6,143.1L568.2,143.1L571.0,151.8ZM513.6,143.1L513.6,117.7L538.1,143.1ZM513.6,117.7L538.1,117.7L538.1,143.1ZM538.1,143.1L538.1,117.7L562.6,143.1ZM538.1,117.7L560.2,117.7L562.6,125.3L562.6,143.1ZM562.6,143.1L562.6,125.3L568.2,143.1ZM513.6,117.7L513.6,92.2L538.1,117.7ZM513.6,92.2L538.1,92.2L538.1,117.7ZM538.1,117.7L538.1,92.2L559.1,114.0L560.2,117.7ZM513.6,92.2L513.6,66.8L538.1,92.2ZM538.1,413.2L538.1,422.8L535.0,422.8ZM535.0,422.8L538.1,422.8L533.3,427.8ZM538.1,422.8L538.1,448.2L526.7,448.2L533.3,427.8ZM526.7,448.2L538.1,448.2L520.8,466.3ZM538.1,448.2L538.1,473.7L518.4,473.7L520.8,466.3ZM518.4,473.7L538.1,473.7L513.6,499.1L513.6,488.1ZM538.1,473.7L538.1,499.1L513.6,499.1ZM513.6,499.1L538.1,499.1L513.6,524.5ZM538.1,499.1L538.1,524.5L513.6,524.5ZM513.6,524.5L538.1,524.5L513.6,550.0ZM538.1,524.5L538.1,550.0L513.6,550.0ZM513.6,550.0L538.1,550.0L513.6,575.4ZM538.1,550.0L538.1,575.4L513.6,575.4ZM513.6,575.4L538.1,575.4L513.6,600.8ZM538.1,575.4L538.1,600.8L513.6,600.8ZM513.6,600.8L538.1,600.8L513.6,626.2ZM538.1,600.8L538.1,626.2L513.6,626.2ZM513.6,626.2L538.1,626.2L513.6,651.7ZM538.1,626.2L538.1,651.7L513.6,651.7ZM513.6,651.7L538.1,651.7L513.6,677.1ZM551.6,371.9L562.6,371.9L545.9,389.3ZM562.6,371.9L562.6,397.4L543.3,397.4L545.9,389.3ZM543.3,397.4L562.6,397.4L538.1,422.8L538.1,413.2ZM562.6,397.4L562.6,422.8L538.1,422.8ZM538.1,422.8L562.6,422.8L538.1,448.2ZM562.6,422.8L562.6,448.2L538.1,448.2ZM538.1,448.2L562.6,448.2L538.1,473.7ZM562.6,448.2L562.6,473.7L538.1,473.7ZM538.1,473.7L562.6,473.7L538.1,499.1ZM562.6,473.7L562.6,499.1L538.1,499.1ZM538.1,499.1L562.6,499.1L538.1,524.5ZM562.6,499.1L562.6,524.5L538.1,524.5ZM538.1,524.5L562.6,524.5L538.1,550.0ZM562.6,524.5L562.6,550.0L538.1,550.0ZM538.1,550.0L562.6,550.0L538.1,575.4ZM562.6,550.0L562.6,575.4L538.1,575.4ZM538.1,575.4L562.6,575.4L538.1,600.8ZM562.6,575.4L562.6,600.8L538.1,600.8ZM538.1,600.8L562.6,600.8L538.1,626.2ZM562.6,600.8L562.6,619.5L560.4,626.2L538.1,626.2ZM538.1,626.2L560.4,626.2L559.3,629.7L538.1,651.7ZM562.6,371.9L587.1,371.9L562.6,397.4ZM587.1,371.9L587.1,397.4L562.6,397.4ZM562.6,397.4L587.1,397.4L562.6,422.8ZM587.1,397.4L587.1,422.8L562.6,422.8ZM562.6,422.8L587.1,422.8L562.6,448.2ZM587.1,422.8L587.1,448.2L562.6,448.2ZM562.6,448.2L587.1,448.2L562.6,473.7ZM587.1,448.2L587.1,473.7L562.6,473.7ZM562.6,473.7L587.1,473.7L562.6,499.1ZM587.1,473.7L587.1,499.1L562.6,499.1ZM562.6,499.1L587.1,499.1L562.6,524.5ZM587.1,499.1L587.1,524.5L562.6,524.5ZM562.6,524.5L587.1,524.5L562.6,550.0ZM587.1,524.5L587.1,544.6L585.3,550.0L562.6,550.0ZM562.6,550.0L585.3,550.0L584.4,552.7L562.6,575.4ZM577.0,575.4L562.6,575.4L584.4,552.7ZM562.6,575.4L577.0,575.4L571.8,591.2L562.6,600.8ZM568.7,600.8L562.6,600.8L571.8,591.2ZM562.6,600.8L568.7,600.8L562.6,619.5ZM587.1,371.9L611.5,371.9L587.1,397.4ZM611.5,371.9L611.5,397.4L587.1,397.4ZM587.1,397.4L611.5,397.4L587.1,422.8ZM611.5,397.4L611.5,422.8L587.1,422.8ZM587.1,422.8L611.5,422.8L587.1,448.2ZM611.5,422.8L611.5,448.2L587.1,448.2ZM587.1,448.2L611.5,448.2L587.1,473.7ZM611.5,448.2L611.5,469.9L610.3,473.7L587.1,473.7ZM587.1,473.7L610.3,473.7L609.6,475.6L587.1,499.1ZM602.0,499.1L587.1,499.1L609.6,475.6ZM587.1,499.1L602.0,499.1L597.0,514.2L587.1,524.5ZM593.6,524.5L587.1,524.5L597.0,514.2ZM587.1,524.5L593.6,524.5L587.1,544.6ZM611.5,371.9L636.0,371.9L611.5,397.4ZM636.0,371.9L636.0,395.2L635.3,397.4L611.5,397.4ZM611.5,397.4L635.3,397.4L634.9,398.5L611.5,422.8ZM627.0,422.8L611.5,422.8L634.9,398.5ZM611.5,422.8L627.0,422.8L622.3,437.1L611.5,448.2ZM618.6,448.2L611.5,448.2L622.3,437.1ZM611.5,448.2L618.6,448.2L611.5,469.9ZM636.0,371.9L643.7,371.9L636.0,395.2ZM513.6,488.1L513.6,499.1L512.4,497.8ZM513.6,499.1L512.2,499.1L512.4,497.8ZM513.6,499.1L513.6,524.5L509.4,520.2L512.2,499.1ZM513.6,524.5L508.9,524.5L509.4,520.2ZM513.6,524.5L513.6,550.0L506.5,542.5L508.9,524.5ZM513.6,550.0L505.6,550.0L506.5,542.5ZM513.6,550.0L513.6,575.4L503.6,564.9L505.6,550.0ZM513.6,575.4L502.2,575.4L503.6,564.9ZM513.6,575.4L513.6,600.8L500.7,587.3L502.2,575.4ZM513.6,600.8L498.9,600.8L500.7,587.3ZM513.6,600.8L513.6,626.2L497.7,609.7L498.9,600.8ZM513.6,626.2L495.6,626.2L497.7,609.7ZM513.6,626.2L513.6,651.7L494.8,632.1L495.6,626.2ZM513.6,651.7L492.3,651.7L494.8,632.1ZM513.6,651.7L513.6,677.1L491.9,654.5L492.3,651.7Z" fill="#4432f0" stroke="#4432f0" stroke-width="0.5" stroke-linejoin="round"/>
<path d="M628.2,346.5L636.0,346.5L636.0,369.5ZM636.0,369.5L636.0,346.5L660.5,371.9L636.8,371.9ZM636.0,346.5L660.5,346.5L660.5,371.9ZM660.5,371.9L660.5,346.5L684.9,371.9ZM660.5,346.5L684.9,346.5L684.9,371.9ZM684.9,371.9L684.9,346.5L709.4,371.9ZM684.9,346.5L709.4,346.5L709.4,371.9ZM709.4,371.9L709.4,346.5L726.0,363.7L728.9,371.9ZM709.4,346.5L719.8,346.5L726.0,363.7ZM624.0,334.0L636.0,346.5L628.2,346.5ZM619.6,321.1L636.0,321.1L636.0,346.5L624.0,334.0ZM636.0,346.5L636.0,321.1L660.5,346.5ZM636.0,321.1L660.5,321.1L660.5,346.5ZM660.5,346.5L660.5,321.1L684.9,346.5ZM660.5,321.1L684.9,321.1L684.9,346.5ZM684.9,346.5L684.9,321.1L709.4,346.5ZM684.9,321.1L709.4,321.1L709.4,346.5ZM709.4,346.5L709.4,321.1L711.6,323.3L719.8,346.5ZM709.4,321.1L710.8,321.1L711.6,323.3ZM611.1,295.7L611.5,295.7L611.5,297.0ZM611.5,297.0L611.5,295.7L636.0,321.1L619.6,321.1ZM611.5,295.7L636.0,295.7L636.0,321.1ZM636.0,321.1L636.0,295.7L660.5,321.1ZM636.0,295.7L660.5,295.7L660.5,321.1ZM660.5,321.1L660.5,295.7L684.9,321.1ZM660.5,295.7L684.9,295.7L684.9,321.1ZM684.9,321.1L684.9,295.7L709.4,321.1ZM684.9,295.7L701.8,295.7L709.4,317.2L709.4,321.1ZM709.4,321.1L709.4,317.2L710.8,321.1ZM610.8,294.9L611.5,295.7L611.1,295.7ZM602.7,270.2L611.5,270.2L611.5,295.7L610.8,294.9ZM611.5,295.7L611.5,270.2L636.0,295.7ZM611.5,270.2L636.0,270.2L636.0,295.7ZM636.0,295.7L636.0,270.2L660.5,295.7ZM636.0,270.2L660.5,270.2L660.5,295.7ZM660.5,295.7L660.5,270.2L684.9,295.7ZM660.5,270.2L684.9,270.2L684.9,295.7ZM684.9,295.7L684.9,270.2L697.6,283.4L701.8,295.7ZM684.9,270.2L693.0,270.2L697.6,283.4ZM598.1,256.3L611.5,270.2L602.7,270.2ZM594.3,244.8L611.5,244.8L611.5,270.2L598.1,256.3ZM611.5,270.2L611.5,244.8L636.0,270.2ZM611.5,244.8L636.0,244.8L636.0,270.2ZM636.0,270.2L636.0,244.8L660.5,270.2ZM636.0,244.8L660.5,244.8L660.5,270.2ZM660.5,270.2L660.5,244.8L684.9,270.2ZM660.5,244.8L684.2,244.8L684.9,246.9L684.9,270.2ZM684.9,270.2L684.9,246.9L693.0,270.2ZM586.0,219.4L587.1,219.4L587.1,222.6ZM587.1,222.6L587.1,219.4L611.5,244.8L594.3,244.8ZM587.1,219.4L611.5,219.4L611.5,244.8ZM611.5,244.8L611.5,219.4L636.0,244.8ZM611.5,219.4L636.0,219.4L636.0,244.8ZM636.0,244.8L636.0,219.4L660.5,244.8ZM636.0,219.4L660.5,219.4L660.5,244.8ZM660.5,244.8L660.5,219.4L683.8,243.7L684.2,244.8ZM585.5,217.8L587.1,219.4L586.0,219.4ZM577.8,193.9L587.1,193.9L587.1,219.4L585.5,217.8ZM587.1,219.4L587.1,193.9L611.5,219.4ZM587.1,193.9L611.5,193.9L611.5,219.4ZM611.5,219.4L611.5,193.9L636.0,219.4ZM611.5,193.9L636.0,193.9L636.0,219.4ZM636.0,219.4L636.0,193.9L660.5,219.4ZM573.3,179.6L587.1,193.9L577.8,193.9ZM569.7,168.5L587.1,168.5L587.1,193.9L573.3,179.6ZM587.1,193.9L587.1,168.5L611.5,193.9ZM587.1,168.5L611.5,168.5L611.5,193.9ZM611.5,193.9L611.5,168.5L636.0,193.9ZM561.7,143.1L562.6,143.1L562.6,146.0ZM562.6,146.0L562.6,143.1L587.1,168.5L569.7,168.5ZM562.6,143.1L587.1,143.1L587.1,168.5ZM587.1,168.5L587.1,143.1L611.5,168.5ZM561.2,141.7L562.6,143.1L561.7,143.1ZM553.7,117.7L562.6,117.7L562.6,143.1L561.2,141.7ZM562.6,143.1L562.6,117.7L587.1,143.1ZM549.5,104.0L562.6,117.7L553.7,117.7ZM562.6,598.7L562.6,600.8L561.9,600.8ZM561.9,600.8L562.6,600.8L561.5,601.9ZM562.6,600.8L562.6,626.2L553.6,626.2L561.5,601.9ZM553.6,626.2L562.6,626.2L549.0,640.4ZM587.1,523.8L587.1,524.5L586.8,524.5ZM586.8,524.5L587.1,524.5L586.7,524.9ZM587.1,524.5L587.1,550.0L578.5,550.0L586.7,524.9ZM578.5,550.0L587.1,550.0L574.1,563.4ZM587.1,550.0L587.1,575.4L570.2,575.4L574.1,563.4ZM570.2,575.4L587.1,575.4L562.6,600.8L562.6,598.7ZM587.1,575.4L587.1,600.8L562.6,600.8ZM562.6,600.8L587.1,600.8L562.6,626.2ZM611.5,449.1L611.5,473.7L603.5,473.7ZM603.5,473.7L611.5,473.7L599.3,486.4ZM611.5,473.7L611.5,499.1L595.2,499.1L599.3,486.4ZM595.2,499.1L611.5,499.1L587.1,524.5L587.1,523.8ZM611.5,499.1L611.5,524.5L587.1,524.5ZM587.1,524.5L611.5,524.5L587.1,550.0ZM611.5,524.5L611.5,550.0L587.1,550.0ZM587.1,550.0L611.5,550.0L587.1,575.4ZM611.5,550.0L611.5,575.4L587.1,575.4ZM587.1,575.4L611.5,575.4L587.1,600.8ZM636.0,374.5L636.0,397.4L628.5,397.4ZM628.5,397.4L636.0,397.4L624.6,409.2ZM636.0,397.4L636.0,422.8L620.1,422.8L624.6,409.2ZM620.1,422.8L636.0,422.8L612.0,447.8ZM636.0,422.8L636.0,448.2L611.8,448.2L612.0,447.8ZM611.8,448.2L636.0,448.2L611.5,473.7L611.5,449.1ZM636.0,448.2L636.0,473.7L611.5,473.7ZM611.5,473.7L636.0,473.7L611.5,499.1ZM636.0,473.7L636.0,499.1L611.5,499.1ZM611.5,499.1L636.0,499.1L611.5,524.5ZM636.0,499.1L636.0,524.5L611.5,524.5ZM611.5,524.5L636.0,524.5L611.5,550.0ZM636.0,524.5L636.0,550.0L611.5,550.0ZM611.5,550.0L636.0,550.0L611.5,575.4ZM636.8,371.9L660.5,371.9L636.0,397.4L636.0,374.5ZM660.5,371.9L660.5,397.4L636.0,397.4ZM636.0,397.4L660.5,397.4L636.0,422.8ZM660.5,397.4L660.5,422.8L636.0,422.8ZM636.0,422.8L660.5,422.8L636.0,448.2ZM660.5,422.8L660.5,448.2L636.0,448.2ZM636.0,448.2L660.5,448.2L636.0,473.7ZM660.5,448.2L660.5,473.7L636.0,473.7ZM636.0,473.7L660.5,473.7L636.0,499.1ZM660.5,473.7L660.5,499.1L636.0,499.1ZM636.0,499.1L660.5,499.1L636.0,524.5ZM660.5,499.1L660.5,524.5L636.0,524.5ZM636.0,524.5L660.5,524.5L636.0,550.0ZM660.5,371.9L684.9,371.9L660.5,397.4ZM684.9,371.9L684.9,397.4L660.5,397.4ZM660.5,397.4L684.9,397.4L660.5,422.8ZM684.9,397.4L684.9,422.8L660.5,422.8ZM660.5,422.8L684.9,422.8L660.5,448.2ZM684.9,422.8L684.9,448.2L660.5,448.2ZM660.5,448.2L684.9,448.2L660.5,473.7ZM684.9,448.2L684.9,473.7L660.5,473.7ZM660.5,473.7L684.9,473.7L660.5,499.1ZM684.9,473.7L684.9,499.1L660.5,499.1ZM660.5,499.1L684.9,499.1L660.5,524.5ZM684.9,371.9L709.4,371.9L684.9,397.4ZM709.4,371.9L709.4,397.4L684.9,397.4ZM684.9,397.4L709.4,397.4L684.9,422.8ZM709.4,397.4L709.4,422.8L684.9,422.8ZM684.9,422.8L709.4,422.8L684.9,448.2ZM709.4,422.8L709.4,431.1L703.8,448.2L684.9,448.2ZM684.9,448.2L703.8,448.2L700.8,457.1L684.9,473.7ZM695.4,473.7L684.9,473.7L700.8,457.1ZM684.9,473.7L695.4,473.7L688.2,495.8L684.9,499.1ZM709.4,371.9L728.9,371.9L726.3,379.9L709.4,397.4ZM720.5,397.4L709.4,397.4L726.3,379.9ZM709.4,397.4L720.5,397.4L713.6,418.5L709.4,422.8ZM712.1,422.8L709.4,422.8L713.6,418.5ZM709.4,422.8L712.1,422.8L709.4,431.1Z" fill="#9a32f0" stroke="#9a32f0" stroke-width="0.5" stroke-linejoin="round"/>
<path d="M715.1,352.5L733.9,371.9L722.1,371.9ZM713.0,346.5L733.9,346.5L733.9,371.9L715.1,352.5ZM733.9,371.9L733.9,346.5L758.4,371.9ZM733.9,346.5L758.4,346.5L758.4,371.9ZM758.4,371.9L758.4,346.5L782.8,371.9ZM758.4,346.5L782.8,346.5L782.8,371.9ZM782.8,371.9L782.8,346.5L807.3,371.9ZM704.0,321.1L709.4,321.1L709.4,336.4ZM709.4,336.4L709.4,321.1L733.9,346.5L713.0,346.5ZM709.4,321.1L733.9,321.1L733.9,346.5ZM733.9,346.5L733.9,321.1L758.4,346.5ZM733.9,321.1L758.4,321.1L758.4,346.5ZM758.4,346.5L758.4,321.1L782.8,346.5ZM701.0,312.3L709.4,321.1L704.0,321.1ZM695.1,295.7L709.4,295.7L709.4,321.1L701.0,312.3ZM709.4,321.1L709.4,295.7L733.9,321.1ZM709.4,295.7L733.9,295.7L733.9,321.1ZM733.9,321.1L733.9,295.7L758.4,321.1ZM687.1,272.5L709.4,295.7L695.1,295.7ZM686.3,270.2L709.4,270.2L709.4,295.7L687.1,272.5ZM709.4,295.7L709.4,270.2L733.9,295.7ZM677.6,244.8L684.9,244.8L684.9,266.3ZM684.9,266.3L684.9,244.8L709.4,270.2L686.3,270.2ZM673.6,233.0L684.9,244.8L677.6,244.8ZM684.9,484.8L684.9,499.1L680.3,499.1ZM680.3,499.1L684.9,499.1L677.8,506.5ZM709.4,410.4L709.4,422.8L705.3,422.8ZM705.3,422.8L709.4,422.8L703.2,429.3ZM709.4,422.8L709.4,448.2L697.0,448.2L703.2,429.3ZM697.0,448.2L709.4,448.2L690.5,467.9ZM709.4,448.2L709.4,473.7L688.6,473.7L690.5,467.9ZM688.6,473.7L709.4,473.7L684.9,499.1L684.9,484.8ZM722.1,371.9L733.9,371.9L715.9,390.6ZM733.9,371.9L733.9,397.4L713.7,397.4L715.9,390.6ZM713.7,397.4L733.9,397.4L709.4,422.8L709.4,410.4ZM733.9,397.4L733.9,422.8L709.4,422.8ZM709.4,422.8L733.9,422.8L709.4,448.2ZM733.9,422.8L733.9,448.2L709.4,448.2ZM709.4,448.2L733.9,448.2L709.4,473.7ZM733.9,371.9L758.4,371.9L733.9,397.4ZM758.4,371.9L758.4,397.4L733.9,397.4ZM733.9,397.4L758.4,397.4L733.9,422.8ZM758.4,397.4L758.4,422.8L733.9,422.8ZM733.9,422.8L758.4,422.8L733.9,448.2ZM758.4,371.9L782.8,371.9L758.4,397.4ZM782.8,371.9L782.8,397.4L758.4,397.4ZM758.4,397.4L782.8,397.4L758.4,422.8ZM782.8,371.9L807.3,371.9L782.8,397.4Z" fill="#f032f0" stroke="#f032f0" stroke-width="0.5" stroke-linejoin="round"/>
<clipPath id="pca"><rect x="220" y="66.8" width="587.3" height="610.3000000000001"/></clipPath>
<g clip-path="url(#pca)"><ellipse cx="220.00" cy="371.35" rx="36.6" ry="37.9" fill="#000"/><ellipse cx="513.65" cy="66.80" rx="36.6" ry="37.9" fill="#000"/><ellipse cx="513.65" cy="371.35" rx="36.6" ry="37.9" fill="#000"/><ellipse cx="807.30" cy="371.35" rx="36.6" ry="37.9" fill="#000"/><ellipse cx="513.65" cy="677.10" rx="36.6" ry="37.9" fill="#000"/></g>
<rect x="220" y="66.8" width="587.3" height="610.3000000000001" fill="none" stroke="#5c5c5c" stroke-width="3" stroke-linejoin="round"/>
<text x="0" y="0" font-family="'Liberation Sans', Arial, sans-serif" font-weight="normal" font-size="34.600" fill="#111" transform="translate(141.61,77.21) scale(1,1.0925)">0.20</text>
<text x="0" y="0" font-family="'Liberation Sans', Arial, sans-serif" font-weight="normal" font-size="34.600" fill="#111" transform="translate(141.61,229.79) scale(1,1.0925)">0.10</text>
<text x="0" y="0" font-family="'Liberation Sans', Arial, sans-serif" font-weight="normal" font-size="34.600" fill="#111" transform="translate(141.61,382.36) scale(1,1.0925)">0.00</text>
<text x="0" y="0" font-family="'Liberation Sans', Arial, sans-serif" font-weight="normal" font-size="34.600" fill="#111" transform="translate(130.09,534.94) scale(1,1.0925)">-0.10</text>
<text x="0" y="0" font-family="'Liberation Sans', Arial, sans-serif" font-weight="normal" font-size="34.600" fill="#111" transform="translate(130.09,687.51) scale(1,1.0925)">-0.20</text>
<text x="0" y="0" font-family="'Liberation Sans', Arial, sans-serif" font-weight="normal" font-size="34.600" fill="#111" transform="translate(179.28,719.71) scale(1,1.0925)">-0.20</text>
<text x="0" y="0" font-family="'Liberation Sans', Arial, sans-serif" font-weight="normal" font-size="34.600" fill="#111" transform="translate(326.83,719.71) scale(1,1.0925)">-0.10</text>
<text x="0" y="0" font-family="'Liberation Sans', Arial, sans-serif" font-weight="normal" font-size="34.600" fill="#111" transform="translate(479.88,719.71) scale(1,1.0925)">0.00</text>
<text x="0" y="0" font-family="'Liberation Sans', Arial, sans-serif" font-weight="normal" font-size="34.600" fill="#111" transform="translate(626.68,719.71) scale(1,1.0925)">0.10</text>
<text x="0" y="0" font-family="'Liberation Sans', Arial, sans-serif" font-weight="normal" font-size="34.600" fill="#111" transform="translate(773.63,719.71) scale(1,1.0925)">0.20</text>
<text x="0" y="0" font-family="'Liberation Sans', Arial, sans-serif" font-weight="normal" font-size="35.450" fill="#111" transform="translate(462.32,762.02) scale(1,1.0381)">X (cm)</text>
<text x="0" y="0" font-family="'Liberation Sans', Arial, sans-serif" font-weight="normal" font-size="36.000" fill="#111" transform="translate(116.00,424.12) rotate(-90) scale(1,1.0222)">Y (cm)</text>
<rect x="847.6" y="625.82" width="39.0" height="51.38" fill="#f03232"/>
<rect x="847.6" y="575.03" width="39.0" height="51.38" fill="#f08832"/>
<rect x="847.6" y="524.25" width="39.0" height="51.38" fill="#f0de32"/>
<rect x="847.6" y="473.47" width="39.0" height="51.38" fill="#abf032"/>
<rect x="847.6" y="422.68" width="39.0" height="51.38" fill="#55f032"/>
<rect x="847.6" y="371.90" width="39.0" height="51.38" fill="#32f066"/>
<rect x="847.6" y="321.12" width="39.0" height="51.38" fill="#32f0bc"/>
<rect x="847.6" y="270.33" width="39.0" height="51.38" fill="#32cdf0"/>
<rect x="847.6" y="219.55" width="39.0" height="51.38" fill="#3277f0"/>
<rect x="847.6" y="168.77" width="39.0" height="51.38" fill="#4432f0"/>
<rect x="847.6" y="117.98" width="39.0" height="51.38" fill="#9a32f0"/>
<rect x="847.6" y="67.20" width="39.0" height="50.78" fill="#f032f0"/>
<text x="0" y="0" font-family="'Liberation Sans', Arial, sans-serif" font-weight="normal" font-size="34.600" fill="#111" transform="translate(896.50,78.11) scale(1,1.0925)">5241.95</text>
<text x="0" y="0" font-family="'Liberation Sans', Arial, sans-serif" font-weight="normal" font-size="34.600" fill="#111" transform="translate(896.50,179.68) scale(1,1.0925)">5234.26</text>
<text x="0" y="0" font-family="'Liberation Sans', Arial, sans-serif" font-weight="normal" font-size="34.600" fill="#111" transform="translate(896.50,281.25) scale(1,1.0925)">5226.57</text>
<text x="0" y="0" font-family="'Liberation Sans', Arial, sans-serif" font-weight="normal" font-size="34.600" fill="#111" transform="translate(896.50,382.81) scale(1,1.0925)">5218.87</text>
<text x="0" y="0" font-family="'Liberation Sans', Arial, sans-serif" font-weight="normal" font-size="34.600" fill="#111" transform="translate(896.50,484.38) scale(1,1.0925)">5211.18</text>
<text x="0" y="0" font-family="'Liberation Sans', Arial, sans-serif" font-weight="normal" font-size="34.600" fill="#111" transform="translate(896.50,585.95) scale(1,1.0925)">5203.49</text>
<text x="0" y="0" font-family="'Liberation Sans', Arial, sans-serif" font-weight="normal" font-size="34.600" fill="#111" transform="translate(896.50,687.51) scale(1,1.0925)">5195.80</text>
<rect x="605.6" y="731.4" width="415.0" height="79.5" fill="none" stroke="#000" stroke-width="4"/>
<text x="0" y="0" font-family="'Liberation Serif', 'Times New Roman', serif" font-weight="normal" font-size="38.904" fill="#111" transform="translate(638.10,783.90) scale(1,1.0167)">Thickness = 522.7 nm</text>
<text x="0" y="0" font-family="'Liberation Sans', Arial, sans-serif" font-weight="bold" font-size="34.740" fill="#115086" transform="translate(261.11,914.00) scale(1,1.0585)">Thickness # 1 in Å vs. Position</text>
<text x="0" y="0" font-family="'Liberation Serif', 'Times New Roman', serif" font-weight="normal" font-size="68.081" fill="#111" transform="translate(-0.19,945.42) scale(1,1.0335)">(b)</text>
<line x1="366.82" y1="945.9" x2="366.82" y2="1557.3" stroke="#aaaaaa" stroke-width="2.2"/>
<line x1="220" y1="1098.75" x2="807.3" y2="1098.75" stroke="#aaaaaa" stroke-width="2.2"/>
<line x1="513.65" y1="945.9" x2="513.65" y2="1557.3" stroke="#aaaaaa" stroke-width="2.2"/>
<line x1="220" y1="1251.60" x2="807.3" y2="1251.60" stroke="#aaaaaa" stroke-width="2.2"/>
<line x1="660.47" y1="945.9" x2="660.47" y2="1557.3" stroke="#aaaaaa" stroke-width="2.2"/>
<line x1="220" y1="1404.45" x2="807.3" y2="1404.45" stroke="#aaaaaa" stroke-width="2.2"/>
<path d="M777.8,1246.4L782.8,1251.6L780.6,1251.6ZM767.0,1226.1L782.8,1226.1L782.8,1251.6L777.8,1246.4ZM782.8,1251.6L782.8,1226.1L807.3,1251.6ZM753.3,1200.6L758.4,1200.6L758.4,1210.0ZM758.4,1210.0L758.4,1200.6L782.8,1226.1L767.0,1226.1ZM746.8,1188.6L758.4,1200.6L753.3,1200.6ZM684.9,1377.4L684.9,1379.0L683.7,1379.0ZM683.7,1379.0L684.9,1379.0L678.2,1386.0ZM709.4,1345.8L709.4,1353.5L703.5,1353.5ZM703.5,1353.5L709.4,1353.5L684.9,1379.0L684.9,1377.4ZM733.9,1313.8L733.9,1328.0L723.1,1328.0ZM723.1,1328.0L733.9,1328.0L709.4,1353.5L709.4,1345.8ZM758.4,1281.4L758.4,1302.5L742.4,1302.5ZM742.4,1302.5L758.4,1302.5L733.9,1328.0L733.9,1313.8ZM780.6,1251.6L782.8,1251.6L772.9,1262.0ZM782.8,1251.6L782.8,1277.1L761.6,1277.1L772.9,1262.0ZM761.6,1277.1L782.8,1277.1L758.4,1302.5L758.4,1281.4ZM782.8,1251.6L807.3,1251.6L782.8,1277.1Z" fill="#f03232" stroke="#f03232" stroke-width="0.5" stroke-linejoin="round"/>
<path d="M753.0,1246.0L758.4,1251.6L756.0,1251.6ZM742.3,1226.1L758.4,1226.1L758.4,1251.6L753.0,1246.0ZM758.4,1251.6L758.4,1226.1L782.2,1251.0L782.6,1251.6ZM758.4,1226.1L769.0,1226.1L782.2,1251.0ZM728.5,1200.6L733.9,1200.6L733.9,1210.5ZM733.9,1210.5L733.9,1200.6L758.4,1226.1L742.3,1226.1ZM733.9,1200.6L755.3,1200.6L758.4,1206.3L758.4,1226.1ZM758.4,1226.1L758.4,1206.3L769.0,1226.1ZM721.5,1187.7L733.9,1200.6L728.5,1200.6ZM714.6,1175.2L733.9,1175.2L733.9,1200.6L721.5,1187.7ZM733.9,1200.6L733.9,1175.2L751.4,1193.4L755.3,1200.6ZM700.6,1149.7L709.4,1149.7L709.4,1165.7ZM709.4,1165.7L709.4,1149.7L733.9,1175.2L714.6,1175.2ZM688.5,1127.9L709.4,1149.7L700.6,1149.7ZM538.1,1527.7L538.1,1531.8L534.7,1531.8ZM534.7,1531.8L538.1,1531.8L513.6,1557.3L513.6,1556.8ZM562.6,1498.2L562.6,1506.3L555.8,1506.3ZM555.8,1506.3L562.6,1506.3L538.1,1531.8L538.1,1527.7ZM587.1,1468.3L587.1,1480.9L576.8,1480.9ZM576.8,1480.9L587.1,1480.9L562.6,1506.3L562.6,1498.2ZM611.5,1438.1L611.5,1455.4L597.5,1455.4ZM597.5,1455.4L611.5,1455.4L587.1,1480.9L587.1,1468.3ZM636.0,1407.5L636.0,1429.9L618.1,1429.9ZM618.1,1429.9L636.0,1429.9L611.5,1455.4L611.5,1438.1ZM660.5,1376.5L660.5,1379.0L658.5,1379.0ZM658.5,1379.0L660.5,1379.0L649.3,1390.6ZM660.5,1379.0L660.5,1404.4L638.4,1404.4L649.3,1390.6ZM638.4,1404.4L660.5,1404.4L636.0,1429.9L636.0,1407.5ZM684.9,1345.1L684.9,1353.5L678.4,1353.5ZM678.4,1353.5L684.9,1353.5L660.5,1379.0L660.5,1376.5ZM684.9,1353.5L684.9,1379.0L660.5,1379.0ZM660.5,1379.0L684.9,1379.0L660.5,1404.4ZM709.4,1313.3L709.4,1328.0L698.1,1328.0ZM698.1,1328.0L709.4,1328.0L684.9,1353.5L684.9,1345.1ZM709.4,1328.0L709.4,1348.4L705.5,1353.5L684.9,1353.5ZM684.9,1353.5L705.5,1353.5L689.0,1374.7L684.9,1379.0ZM733.9,1281.1L733.9,1302.5L717.6,1302.5ZM717.6,1302.5L733.9,1302.5L709.4,1328.0L709.4,1313.3ZM733.9,1302.5L733.9,1316.4L725.1,1328.0L709.4,1328.0ZM709.4,1328.0L725.1,1328.0L709.4,1348.4ZM756.0,1251.6L758.4,1251.6L747.6,1262.8ZM758.4,1251.6L758.4,1277.1L736.9,1277.1L747.6,1262.8ZM736.9,1277.1L758.4,1277.1L733.9,1302.5L733.9,1281.1ZM758.4,1277.1L758.4,1284.1L744.4,1302.5L733.9,1302.5ZM733.9,1302.5L744.4,1302.5L733.9,1316.4ZM758.4,1251.6L782.6,1251.6L781.7,1252.8L758.4,1277.1ZM763.6,1277.1L758.4,1277.1L781.7,1252.8ZM758.4,1277.1L763.6,1277.1L758.4,1284.1ZM513.6,1556.8L513.6,1557.3L512.9,1556.5Z" fill="#f08832" stroke="#f08832" stroke-width="0.5" stroke-linejoin="round"/>
<path d="M728.2,1245.7L733.9,1251.6L731.4,1251.6ZM717.6,1226.1L733.9,1226.1L733.9,1251.6L728.2,1245.7ZM733.9,1251.6L733.9,1226.1L757.5,1250.7L758.0,1251.6ZM733.9,1226.1L744.3,1226.1L757.5,1250.7ZM703.7,1200.6L709.4,1200.6L709.4,1211.0ZM709.4,1211.0L709.4,1200.6L733.9,1226.1L717.6,1226.1ZM709.4,1200.6L730.5,1200.6L733.9,1206.8L733.9,1226.1ZM733.9,1226.1L733.9,1206.8L744.3,1226.1ZM696.1,1186.8L709.4,1200.6L703.7,1200.6ZM689.7,1175.2L709.4,1175.2L709.4,1200.6L696.1,1186.8ZM709.4,1200.6L709.4,1175.2L726.1,1192.5L730.5,1200.6ZM709.4,1175.2L716.6,1175.2L726.1,1192.5ZM675.6,1149.7L684.9,1149.7L684.9,1166.5ZM684.9,1166.5L684.9,1149.7L709.4,1175.2L689.7,1175.2ZM684.9,1149.7L702.6,1149.7L709.4,1162.1L709.4,1175.2ZM709.4,1175.2L709.4,1162.1L716.6,1175.2ZM662.5,1126.4L684.9,1149.7L675.6,1149.7ZM661.3,1124.2L684.9,1124.2L684.9,1149.7L662.5,1126.4ZM684.9,1149.7L684.9,1124.2L693.3,1132.9L702.6,1149.7ZM647.0,1098.8L660.5,1098.8L660.5,1122.7ZM660.5,1122.7L660.5,1098.8L684.9,1124.2L661.3,1124.2ZM632.5,1073.3L636.0,1073.3L636.0,1079.5ZM636.0,1079.5L636.0,1073.3L660.5,1098.8L647.0,1098.8ZM627.2,1064.1L636.0,1073.3L632.5,1073.3ZM538.1,1496.5L538.1,1506.3L530.0,1506.3ZM530.0,1506.3L538.1,1506.3L513.6,1531.8L513.6,1525.9ZM538.1,1506.3L538.1,1530.2L536.7,1531.8L513.6,1531.8ZM513.6,1531.8L536.7,1531.8L527.2,1543.2L513.6,1557.3ZM562.6,1466.8L562.6,1480.9L551.1,1480.9ZM551.1,1480.9L562.6,1480.9L538.1,1506.3L538.1,1496.5ZM562.6,1480.9L562.6,1500.7L557.9,1506.3L538.1,1506.3ZM538.1,1506.3L557.9,1506.3L538.1,1530.2ZM587.1,1436.8L587.1,1455.4L571.9,1455.4ZM571.9,1455.4L587.1,1455.4L562.6,1480.9L562.6,1466.8ZM587.1,1455.4L587.1,1470.8L578.9,1480.9L562.6,1480.9ZM562.6,1480.9L578.9,1480.9L562.6,1500.7ZM611.5,1406.3L611.5,1429.9L592.6,1429.9ZM592.6,1429.9L611.5,1429.9L587.1,1455.4L587.1,1436.8ZM611.5,1429.9L611.5,1440.6L599.6,1455.4L587.1,1455.4ZM587.1,1455.4L599.6,1455.4L587.1,1470.8ZM636.0,1375.5L636.0,1379.0L633.3,1379.0ZM633.3,1379.0L636.0,1379.0L620.2,1395.4ZM636.0,1379.0L636.0,1404.4L613.0,1404.4L620.2,1395.4ZM613.0,1404.4L636.0,1404.4L611.5,1429.9L611.5,1406.3ZM636.0,1404.4L636.0,1410.0L620.1,1429.9L611.5,1429.9ZM611.5,1429.9L620.1,1429.9L611.5,1440.6ZM660.5,1344.3L660.5,1353.5L653.3,1353.5ZM653.3,1353.5L660.5,1353.5L636.0,1379.0L636.0,1375.5ZM660.5,1353.5L660.5,1379.0L636.0,1379.0ZM636.0,1379.0L660.5,1379.0L636.0,1404.4ZM660.5,1379.0L660.5,1379.0L640.4,1404.4L636.0,1404.4ZM636.0,1404.4L640.4,1404.4L636.0,1410.0ZM684.9,1312.7L684.9,1328.0L673.1,1328.0ZM673.1,1328.0L684.9,1328.0L660.5,1353.5L660.5,1344.3ZM684.9,1328.0L684.9,1347.6L680.4,1353.5L660.5,1353.5ZM660.5,1353.5L680.4,1353.5L660.7,1378.8L660.5,1379.0ZM660.5,1379.0L660.5,1379.0L660.7,1378.8ZM660.5,1379.0L660.5,1379.0L660.5,1379.0ZM709.4,1280.7L709.4,1302.5L692.8,1302.5ZM692.8,1302.5L709.4,1302.5L684.9,1328.0L684.9,1312.7ZM709.4,1302.5L709.4,1315.9L700.1,1328.0L684.9,1328.0ZM684.9,1328.0L700.1,1328.0L684.9,1347.6ZM731.4,1251.6L733.9,1251.6L722.3,1263.6ZM733.9,1251.6L733.9,1277.1L712.2,1277.1L722.3,1263.6ZM712.2,1277.1L733.9,1277.1L709.4,1302.5L709.4,1280.7ZM733.9,1277.1L733.9,1283.7L719.6,1302.5L709.4,1302.5ZM709.4,1302.5L719.6,1302.5L709.4,1315.9ZM733.9,1251.6L758.0,1251.6L756.6,1253.4L733.9,1277.1ZM738.9,1277.1L733.9,1277.1L756.6,1253.4ZM733.9,1277.1L738.9,1277.1L733.9,1283.7ZM472.1,1506.3L464.7,1506.3L464.7,1502.8ZM464.7,1502.8L464.7,1506.3L458.4,1499.8ZM513.6,1525.9L513.6,1531.8L503.2,1521.0ZM513.6,1531.8L489.2,1531.8L489.2,1514.4L503.2,1521.0ZM489.2,1514.4L489.2,1531.8L464.7,1506.3L472.1,1506.3ZM513.6,1531.8L513.6,1557.3L489.2,1531.8Z" fill="#f0de32" stroke="#f0de32" stroke-width="0.5" stroke-linejoin="round"/>
<path d="M703.4,1245.4L709.4,1251.6L706.8,1251.6ZM692.9,1226.1L709.4,1226.1L709.4,1251.6L703.4,1245.4ZM709.4,1251.6L709.4,1226.1L732.7,1250.4L733.4,1251.6ZM709.4,1226.1L719.6,1226.1L732.7,1250.4ZM678.9,1200.6L684.9,1200.6L684.9,1211.5ZM684.9,1211.5L684.9,1200.6L709.4,1226.1L692.9,1226.1ZM684.9,1200.6L705.7,1200.6L709.4,1207.4L709.4,1226.1ZM709.4,1226.1L709.4,1207.4L719.6,1226.1ZM670.7,1185.9L684.9,1200.6L678.9,1200.6ZM664.8,1175.2L684.9,1175.2L684.9,1200.6L670.7,1185.9ZM684.9,1200.6L684.9,1175.2L700.8,1191.6L705.7,1200.6ZM684.9,1175.2L691.7,1175.2L700.8,1191.6ZM650.6,1149.7L660.5,1149.7L660.5,1167.4ZM660.5,1167.4L660.5,1149.7L684.9,1175.2L664.8,1175.2ZM660.5,1149.7L677.6,1149.7L684.9,1162.9L684.9,1175.2ZM684.9,1175.2L684.9,1162.9L691.7,1175.2ZM636.5,1124.8L660.5,1149.7L650.6,1149.7ZM636.2,1124.2L660.5,1124.2L660.5,1149.7L636.5,1124.8ZM660.5,1149.7L660.5,1124.2L667.3,1131.4L677.6,1149.7ZM660.5,1124.2L663.3,1124.2L667.3,1131.4ZM621.7,1098.8L636.0,1098.8L636.0,1123.8ZM636.0,1123.8L636.0,1098.8L660.5,1124.2L636.2,1124.2ZM636.0,1098.8L649.0,1098.8L660.5,1119.1L660.5,1124.2ZM660.5,1124.2L660.5,1119.1L663.3,1124.2ZM607.1,1073.3L611.5,1073.3L611.5,1080.9ZM611.5,1080.9L611.5,1073.3L636.0,1098.8L621.7,1098.8ZM611.5,1073.3L634.5,1073.3L636.0,1075.9L636.0,1098.8ZM636.0,1098.8L636.0,1075.9L649.0,1098.8ZM600.4,1061.7L611.5,1073.3L607.1,1073.3ZM592.4,1047.8L611.5,1047.8L611.5,1073.3L600.4,1061.7ZM611.5,1073.3L611.5,1047.8L632.2,1069.3L634.5,1073.3ZM577.5,1022.3L587.1,1022.3L587.1,1038.6ZM587.1,1038.6L587.1,1022.3L611.5,1047.8L592.4,1047.8ZM562.5,996.9L562.6,996.9L562.6,997.0ZM562.6,997.0L562.6,996.9L587.1,1022.3L577.5,1022.3ZM562.4,996.7L562.6,996.9L562.5,996.9ZM538.1,1465.4L538.1,1480.9L525.3,1480.9ZM525.3,1480.9L538.1,1480.9L513.6,1506.3L513.6,1494.9ZM538.1,1480.9L538.1,1499.0L532.0,1506.3L513.6,1506.3ZM513.6,1506.3L532.0,1506.3L513.6,1528.3ZM562.6,1435.5L562.6,1455.4L546.3,1455.4ZM546.3,1455.4L562.6,1455.4L538.1,1480.9L538.1,1465.4ZM562.6,1455.4L562.6,1469.3L553.1,1480.9L538.1,1480.9ZM538.1,1480.9L553.1,1480.9L538.1,1499.0ZM587.1,1405.2L587.1,1429.9L567.1,1429.9ZM567.1,1429.9L587.1,1429.9L562.6,1455.4L562.6,1435.5ZM587.1,1429.9L587.1,1439.3L574.0,1455.4L562.6,1455.4ZM562.6,1455.4L574.0,1455.4L562.6,1469.3ZM611.5,1374.6L611.5,1379.0L608.1,1379.0ZM608.1,1379.0L611.5,1379.0L590.8,1400.6ZM611.5,1379.0L611.5,1404.4L587.7,1404.4L590.8,1400.6ZM587.7,1404.4L611.5,1404.4L587.1,1429.9L587.1,1405.2ZM611.5,1404.4L611.5,1408.9L594.6,1429.9L587.1,1429.9ZM587.1,1429.9L594.6,1429.9L587.1,1439.3ZM636.0,1343.6L636.0,1353.5L628.2,1353.5ZM628.2,1353.5L636.0,1353.5L611.5,1379.0L611.5,1374.6ZM636.0,1353.5L636.0,1378.1L635.3,1379.0L611.5,1379.0ZM611.5,1379.0L635.3,1379.0L631.9,1383.3L611.5,1404.4ZM615.1,1404.4L611.5,1404.4L631.9,1383.3ZM611.5,1404.4L615.1,1404.4L611.5,1408.9ZM660.5,1312.2L660.5,1328.0L648.2,1328.0ZM648.2,1328.0L660.5,1328.0L636.0,1353.5L636.0,1343.6ZM660.5,1328.0L660.5,1346.9L655.3,1353.5L636.0,1353.5ZM636.0,1353.5L655.3,1353.5L636.0,1378.1ZM684.9,1280.4L684.9,1302.5L667.9,1302.5ZM667.9,1302.5L684.9,1302.5L660.5,1328.0L660.5,1312.2ZM684.9,1302.5L684.9,1315.3L675.1,1328.0L660.5,1328.0ZM660.5,1328.0L675.1,1328.0L660.5,1346.9ZM706.8,1251.6L709.4,1251.6L697.0,1264.5ZM709.4,1251.6L709.4,1277.1L687.5,1277.1L697.0,1264.5ZM687.5,1277.1L709.4,1277.1L684.9,1302.5L684.9,1280.4ZM709.4,1277.1L709.4,1283.3L694.7,1302.5L684.9,1302.5ZM684.9,1302.5L694.7,1302.5L684.9,1315.3ZM709.4,1251.6L733.4,1251.6L731.5,1254.0L709.4,1277.1ZM714.2,1277.1L709.4,1277.1L731.5,1254.0ZM709.4,1277.1L714.2,1277.1L709.4,1283.3ZM431.5,1455.4L415.8,1455.4L415.8,1447.7ZM415.8,1447.7L415.8,1455.4L401.5,1440.6ZM484.2,1480.9L464.7,1480.9L464.7,1471.5ZM464.7,1471.5L464.7,1480.9L447.9,1463.3ZM464.7,1480.9L440.2,1480.9L440.2,1459.7L447.9,1463.3ZM440.2,1459.7L440.2,1480.9L415.8,1455.4L431.5,1455.4ZM513.6,1494.9L513.6,1506.3L493.4,1485.3ZM513.6,1506.3L489.2,1506.3L489.2,1483.3L493.4,1485.3ZM489.2,1483.3L489.2,1506.3L464.7,1480.9L484.2,1480.9ZM489.2,1506.3L466.9,1506.3L464.7,1505.3L464.7,1480.9ZM464.7,1480.9L464.7,1505.3L462.9,1504.4L440.2,1480.9ZM513.6,1506.3L513.6,1528.3L507.6,1525.5L489.2,1506.3ZM489.2,1516.9L489.2,1506.3L507.6,1525.5ZM489.2,1506.3L489.2,1516.9L466.9,1506.3Z" fill="#abf032" stroke="#abf032" stroke-width="0.5" stroke-linejoin="round"/>
<path d="M489.2,974.6L489.2,971.4L493.9,971.4ZM493.9,971.4L489.2,971.4L513.6,945.9L513.6,958.1ZM480.4,980.5L489.2,971.4L489.2,974.6ZM678.6,1245.0L684.9,1251.6L682.2,1251.6ZM668.3,1226.1L684.9,1226.1L684.9,1251.6L678.6,1245.0ZM684.9,1251.6L684.9,1226.1L708.0,1250.1L708.8,1251.6ZM684.9,1226.1L694.9,1226.1L708.0,1250.1ZM654.1,1200.6L660.5,1200.6L660.5,1212.1ZM660.5,1212.1L660.5,1200.6L684.9,1226.1L668.3,1226.1ZM660.5,1200.6L680.9,1200.6L684.9,1207.9L684.9,1226.1ZM684.9,1226.1L684.9,1207.9L694.9,1226.1ZM645.3,1184.9L660.5,1200.6L654.1,1200.6ZM639.9,1175.2L660.5,1175.2L660.5,1200.6L645.3,1184.9ZM660.5,1200.6L660.5,1175.2L675.4,1190.7L680.9,1200.6ZM660.5,1175.2L666.8,1175.2L675.4,1190.7ZM625.6,1149.7L636.0,1149.7L636.0,1168.2ZM636.0,1168.2L636.0,1149.7L660.5,1175.2L639.9,1175.2ZM636.0,1149.7L652.6,1149.7L660.5,1163.8L660.5,1175.2ZM660.5,1175.2L660.5,1163.8L666.8,1175.2ZM611.1,1124.2L611.5,1124.2L611.5,1125.0ZM611.5,1125.0L611.5,1124.2L636.0,1149.7L625.6,1149.7ZM611.5,1124.2L636.0,1124.2L636.0,1149.7ZM636.0,1149.7L636.0,1124.2L641.4,1129.8L652.6,1149.7ZM636.0,1124.2L638.2,1124.2L641.4,1129.8ZM610.5,1123.1L611.5,1124.2L611.1,1124.2ZM596.5,1098.8L611.5,1098.8L611.5,1124.2L610.5,1123.1ZM611.5,1124.2L611.5,1098.8L636.0,1124.2ZM611.5,1098.8L623.8,1098.8L636.0,1120.3L636.0,1124.2ZM636.0,1124.2L636.0,1120.3L638.2,1124.2ZM581.8,1073.3L587.1,1073.3L587.1,1082.4ZM587.1,1082.4L587.1,1073.3L611.5,1098.8L596.5,1098.8ZM587.1,1073.3L609.2,1073.3L611.5,1077.4L611.5,1098.8ZM611.5,1098.8L611.5,1077.4L623.8,1098.8ZM573.6,1059.3L587.1,1073.3L581.8,1073.3ZM566.9,1047.8L587.1,1047.8L587.1,1073.3L573.6,1059.3ZM587.1,1073.3L587.1,1047.8L605.5,1067.0L609.2,1073.3ZM587.1,1047.8L594.4,1047.8L605.5,1067.0ZM552.0,1022.3L562.6,1022.3L562.6,1040.4ZM562.6,1040.4L562.6,1022.3L587.1,1047.8L566.9,1047.8ZM562.6,1022.3L579.6,1022.3L587.1,1035.1L587.1,1047.8ZM587.1,1047.8L587.1,1035.1L594.4,1047.8ZM536.9,996.9L538.1,996.9L538.1,999.0ZM538.1,999.0L538.1,996.9L562.6,1022.3L552.0,1022.3ZM538.1,996.9L562.6,996.9L562.6,1022.3ZM562.6,1022.3L562.6,996.9L567.7,1002.2L579.6,1022.3ZM534.8,993.4L538.1,996.9L536.9,996.9ZM521.6,971.4L538.1,971.4L538.1,996.9L534.8,993.4ZM538.1,996.9L538.1,971.4L562.6,996.9ZM513.6,958.1L513.6,945.9L538.1,971.4L521.6,971.4ZM538.1,1434.2L538.1,1455.4L520.7,1455.4ZM520.7,1455.4L538.1,1455.4L513.6,1480.9L513.6,1463.9ZM538.1,1455.4L538.1,1467.9L527.4,1480.9L513.6,1480.9ZM513.6,1480.9L527.4,1480.9L513.6,1497.4ZM562.6,1404.1L562.6,1404.4L562.3,1404.4ZM562.3,1404.4L562.6,1404.4L560.9,1406.2ZM562.6,1404.4L562.6,1429.9L541.6,1429.9L560.9,1406.2ZM541.6,1429.9L562.6,1429.9L538.1,1455.4L538.1,1434.2ZM562.6,1429.9L562.6,1438.0L548.4,1455.4L538.1,1455.4ZM538.1,1455.4L548.4,1455.4L538.1,1467.9ZM587.1,1373.7L587.1,1379.0L582.8,1379.0ZM582.8,1379.0L587.1,1379.0L562.6,1404.4L562.6,1404.1ZM587.1,1379.0L587.1,1404.4L562.6,1404.4ZM562.6,1404.4L587.1,1404.4L562.6,1429.9ZM587.1,1404.4L587.1,1407.8L569.1,1429.9L562.6,1429.9ZM562.6,1429.9L569.1,1429.9L562.6,1438.0ZM611.5,1342.9L611.5,1353.5L603.1,1353.5ZM603.1,1353.5L611.5,1353.5L587.1,1379.0L587.1,1373.7ZM611.5,1353.5L611.5,1377.1L610.1,1379.0L587.1,1379.0ZM587.1,1379.0L610.1,1379.0L602.8,1388.1L587.1,1404.4ZM589.7,1404.4L587.1,1404.4L602.8,1388.1ZM587.1,1404.4L589.7,1404.4L587.1,1407.8ZM636.0,1311.6L636.0,1328.0L623.2,1328.0ZM623.2,1328.0L636.0,1328.0L611.5,1353.5L611.5,1342.9ZM636.0,1328.0L636.0,1346.1L630.2,1353.5L611.5,1353.5ZM611.5,1353.5L630.2,1353.5L611.5,1377.1ZM660.5,1280.0L660.5,1302.5L643.1,1302.5ZM643.1,1302.5L660.5,1302.5L636.0,1328.0L636.0,1311.6ZM660.5,1302.5L660.5,1314.8L650.2,1328.0L636.0,1328.0ZM636.0,1328.0L650.2,1328.0L636.0,1346.1ZM682.2,1251.6L684.9,1251.6L671.6,1265.4ZM684.9,1251.6L684.9,1277.1L662.8,1277.1L671.6,1265.4ZM662.8,1277.1L684.9,1277.1L660.5,1302.5L660.5,1280.0ZM684.9,1277.1L684.9,1283.0L669.9,1302.5L660.5,1302.5ZM660.5,1302.5L669.9,1302.5L660.5,1314.8ZM684.9,1251.6L708.8,1251.6L706.4,1254.7L684.9,1277.1ZM689.4,1277.1L684.9,1277.1L706.4,1254.7ZM684.9,1277.1L689.4,1277.1L684.9,1283.0ZM342.8,1379.0L342.4,1379.0L342.4,1378.7ZM342.4,1378.7L342.4,1379.0L341.9,1378.5ZM392.7,1404.4L391.3,1404.4L391.3,1403.7ZM391.3,1403.7L391.3,1404.4L389.9,1403.0ZM391.3,1404.4L366.8,1404.4L366.8,1391.3L389.9,1403.0ZM366.8,1391.3L366.8,1404.4L342.4,1379.0L342.8,1379.0ZM443.7,1429.9L440.2,1429.9L440.2,1428.2ZM440.2,1428.2L440.2,1429.9L437.0,1426.6ZM440.2,1429.9L415.8,1429.9L415.8,1416.0L437.0,1426.6ZM415.8,1416.0L415.8,1429.9L391.3,1404.4L392.7,1404.4ZM415.8,1429.9L391.3,1429.9L391.3,1404.4ZM391.3,1404.4L391.3,1429.9L366.8,1404.4ZM495.9,1455.4L489.2,1455.4L489.2,1452.1ZM489.2,1452.1L489.2,1455.4L483.3,1449.3ZM489.2,1455.4L464.7,1455.4L464.7,1440.2L483.3,1449.3ZM464.7,1440.2L464.7,1455.4L440.2,1429.9L443.7,1429.9ZM464.7,1455.4L440.2,1455.4L440.2,1429.9ZM440.2,1429.9L440.2,1455.4L415.8,1429.9ZM440.2,1455.4L426.4,1455.4L415.8,1450.2L415.8,1429.9ZM415.8,1429.9L415.8,1450.2L406.2,1445.4L391.3,1429.9ZM513.6,1463.9L513.6,1480.9L489.2,1455.4L495.9,1455.4ZM513.6,1480.9L489.2,1480.9L489.2,1455.4ZM489.2,1455.4L489.2,1480.9L464.7,1455.4ZM489.2,1480.9L478.9,1480.9L464.7,1474.0L464.7,1455.4ZM464.7,1455.4L464.7,1474.0L452.4,1468.0L440.2,1455.4ZM440.2,1462.2L440.2,1455.4L452.4,1468.0ZM440.2,1455.4L440.2,1462.2L426.4,1455.4ZM513.6,1480.9L513.6,1497.4L497.8,1489.8L489.2,1480.9ZM489.2,1485.8L489.2,1480.9L497.8,1489.8ZM489.2,1480.9L489.2,1485.8L478.9,1480.9Z" fill="#55f032" stroke="#55f032" stroke-width="0.5" stroke-linejoin="round"/>
<path d="M502.3,1008.7L513.6,996.9L513.6,1000.9ZM489.2,1017.6L489.2,996.9L513.6,996.9L502.3,1008.7ZM513.6,996.9L489.2,996.9L513.6,971.4ZM489.2,996.9L489.2,971.4L513.6,971.4ZM513.6,971.4L489.2,971.4L489.9,970.7L513.6,954.7ZM464.7,1034.4L464.7,1022.3L482.2,1022.3ZM482.2,1022.3L464.7,1022.3L489.2,996.9L489.2,1017.6ZM464.7,1022.3L464.7,996.9L489.2,996.9ZM489.2,996.9L464.7,996.9L489.2,971.4ZM440.2,1051.3L440.2,1047.8L445.3,1047.8ZM445.3,1047.8L440.2,1047.8L464.7,1022.3L464.7,1034.4ZM440.2,1047.8L440.2,1022.3L464.7,1022.3ZM464.7,1022.3L440.2,1022.3L464.7,996.9ZM429.9,1058.5L440.2,1047.8L440.2,1051.3ZM415.8,1068.4L415.8,1047.8L440.2,1047.8L429.9,1058.5ZM440.2,1047.8L415.8,1047.8L440.2,1022.3ZM391.3,1085.7L391.3,1073.3L408.9,1073.3ZM408.9,1073.3L391.3,1073.3L415.8,1047.8L415.8,1068.4ZM366.8,1103.2L366.8,1098.8L373.0,1098.8ZM373.0,1098.8L366.8,1098.8L391.3,1073.3L391.3,1085.7ZM353.0,1113.1L366.8,1098.8L366.8,1103.2ZM653.8,1244.6L660.5,1251.6L657.7,1251.6ZM643.6,1226.1L660.5,1226.1L660.5,1251.6L653.8,1244.6ZM660.5,1251.6L660.5,1226.1L683.2,1249.8L684.2,1251.6ZM660.5,1226.1L670.2,1226.1L683.2,1249.8ZM629.4,1200.6L636.0,1200.6L636.0,1212.6ZM636.0,1212.6L636.0,1200.6L660.5,1226.1L643.6,1226.1ZM636.0,1200.6L656.1,1200.6L660.5,1208.5L660.5,1226.1ZM660.5,1226.1L660.5,1208.5L670.2,1226.1ZM619.9,1183.9L636.0,1200.6L629.4,1200.6ZM615.0,1175.2L636.0,1175.2L636.0,1200.6L619.9,1183.9ZM636.0,1200.6L636.0,1175.2L650.1,1189.8L656.1,1200.6ZM636.0,1175.2L641.9,1175.2L650.1,1189.8ZM600.6,1149.7L611.5,1149.7L611.5,1169.0ZM611.5,1169.0L611.5,1149.7L636.0,1175.2L615.0,1175.2ZM611.5,1149.7L627.6,1149.7L636.0,1164.6L636.0,1175.2ZM636.0,1175.2L636.0,1164.6L641.9,1175.2ZM586.0,1124.2L587.1,1124.2L587.1,1126.1ZM587.1,1126.1L587.1,1124.2L611.5,1149.7L600.6,1149.7ZM587.1,1124.2L611.5,1124.2L611.5,1149.7ZM611.5,1149.7L611.5,1124.2L615.4,1128.2L627.6,1149.7ZM611.5,1124.2L613.1,1124.2L615.4,1128.2ZM584.4,1121.4L587.1,1124.2L586.0,1124.2ZM571.3,1098.8L587.1,1098.8L587.1,1124.2L584.4,1121.4ZM587.1,1124.2L587.1,1098.8L611.5,1124.2ZM587.1,1098.8L598.5,1098.8L611.5,1121.5L611.5,1124.2ZM611.5,1124.2L611.5,1121.5L613.1,1124.2ZM556.5,1073.3L562.6,1073.3L562.6,1083.8ZM562.6,1083.8L562.6,1073.3L587.1,1098.8L571.3,1098.8ZM562.6,1073.3L583.8,1073.3L587.1,1078.9L587.1,1098.8ZM587.1,1098.8L587.1,1078.9L598.5,1098.8ZM546.8,1056.8L562.6,1073.3L556.5,1073.3ZM541.5,1047.8L562.6,1047.8L562.6,1073.3L546.8,1056.8ZM562.6,1073.3L562.6,1047.8L578.8,1064.7L583.8,1073.3ZM562.6,1047.8L569.0,1047.8L578.8,1064.7ZM526.4,1022.3L538.1,1022.3L538.1,1042.1ZM538.1,1042.1L538.1,1022.3L562.6,1047.8L541.5,1047.8ZM538.1,1022.3L554.0,1022.3L562.6,1036.9L562.6,1047.8ZM562.6,1047.8L562.6,1036.9L569.0,1047.8ZM513.6,1000.9L513.6,996.9L538.1,1022.3L526.4,1022.3ZM513.6,996.9L538.1,996.9L538.1,1022.3ZM538.1,1022.3L538.1,996.9L540.2,999.0L554.0,1022.3ZM538.1,996.9L538.9,996.9L540.2,999.0ZM513.6,996.9L513.6,971.4L538.1,996.9ZM513.6,971.4L523.7,971.4L538.1,995.5L538.1,996.9ZM538.1,996.9L538.1,995.5L538.9,996.9ZM513.6,971.4L513.6,954.7L523.7,971.4ZM538.1,1403.1L538.1,1404.4L537.0,1404.4ZM537.0,1404.4L538.1,1404.4L530.5,1412.4ZM538.1,1404.4L538.1,1429.9L516.1,1429.9L530.5,1412.4ZM516.1,1429.9L538.1,1429.9L513.6,1455.4L513.6,1433.0ZM538.1,1429.9L538.1,1436.7L522.8,1455.4L513.6,1455.4ZM513.6,1455.4L522.8,1455.4L513.6,1466.4ZM562.6,1372.8L562.6,1379.0L557.6,1379.0ZM557.6,1379.0L562.6,1379.0L538.1,1404.4L538.1,1403.1ZM562.6,1379.0L562.6,1404.4L538.1,1404.4ZM538.1,1404.4L562.6,1404.4L538.1,1429.9ZM562.6,1404.4L562.6,1406.6L543.7,1429.9L538.1,1429.9ZM538.1,1429.9L543.7,1429.9L538.1,1436.7ZM587.1,1342.1L587.1,1353.5L578.0,1353.5ZM578.0,1353.5L587.1,1353.5L562.6,1379.0L562.6,1372.8ZM587.1,1353.5L587.1,1376.2L584.9,1379.0L562.6,1379.0ZM562.6,1379.0L584.9,1379.0L573.5,1393.1L562.6,1404.4ZM564.4,1404.4L562.6,1404.4L573.5,1393.1ZM562.6,1404.4L564.4,1404.4L562.6,1406.6ZM611.5,1311.1L611.5,1328.0L598.2,1328.0ZM598.2,1328.0L611.5,1328.0L587.1,1353.5L587.1,1342.1ZM611.5,1328.0L611.5,1345.4L605.1,1353.5L587.1,1353.5ZM587.1,1353.5L605.1,1353.5L587.1,1376.2ZM636.0,1279.7L636.0,1302.5L618.2,1302.5ZM618.2,1302.5L636.0,1302.5L611.5,1328.0L611.5,1311.1ZM636.0,1302.5L636.0,1314.2L625.2,1328.0L611.5,1328.0ZM611.5,1328.0L625.2,1328.0L611.5,1345.4ZM657.7,1251.6L660.5,1251.6L646.2,1266.4ZM660.5,1251.6L660.5,1277.1L638.0,1277.1L646.2,1266.4ZM638.0,1277.1L660.5,1277.1L636.0,1302.5L636.0,1279.7ZM660.5,1277.1L660.5,1282.6L645.1,1302.5L636.0,1302.5ZM636.0,1302.5L645.1,1302.5L636.0,1314.2ZM660.5,1251.6L684.2,1251.6L681.3,1255.4L660.5,1277.1ZM664.7,1277.1L660.5,1277.1L681.3,1255.4ZM660.5,1277.1L664.7,1277.1L660.5,1282.6ZM307.2,1328.0L293.4,1328.0L293.4,1320.7ZM293.4,1320.7L293.4,1328.0L278.8,1312.8ZM355.6,1353.5L342.4,1353.5L342.4,1346.6ZM342.4,1346.6L342.4,1353.5L328.9,1339.5ZM342.4,1353.5L317.9,1353.5L317.9,1333.7L328.9,1339.5ZM317.9,1333.7L317.9,1353.5L293.4,1328.0L307.2,1328.0ZM405.1,1379.0L391.3,1379.0L391.3,1371.9ZM391.3,1371.9L391.3,1379.0L377.9,1365.0ZM391.3,1379.0L366.8,1379.0L366.8,1359.3L377.9,1365.0ZM366.8,1359.3L366.8,1379.0L342.4,1353.5L355.6,1353.5ZM366.8,1379.0L342.4,1379.0L342.4,1353.5ZM342.4,1353.5L342.4,1379.0L317.9,1353.5ZM455.7,1404.4L440.2,1404.4L440.2,1396.7ZM440.2,1396.7L440.2,1404.4L425.8,1389.4ZM440.2,1404.4L415.8,1404.4L415.8,1384.4L425.8,1389.4ZM415.8,1384.4L415.8,1404.4L391.3,1379.0L405.1,1379.0ZM415.8,1404.4L391.3,1404.4L391.3,1379.0ZM391.3,1379.0L391.3,1404.4L366.8,1379.0ZM391.3,1404.4L387.7,1404.4L366.8,1393.8L366.8,1379.0ZM366.8,1379.0L366.8,1393.8L346.7,1383.5L342.4,1379.0ZM507.4,1429.9L489.2,1429.9L489.2,1421.0ZM489.2,1421.0L489.2,1429.9L472.9,1412.9ZM489.2,1429.9L464.7,1429.9L464.7,1408.9L472.9,1412.9ZM464.7,1408.9L464.7,1429.9L440.2,1404.4L455.7,1404.4ZM464.7,1429.9L440.2,1429.9L440.2,1404.4ZM440.2,1404.4L440.2,1429.9L415.8,1404.4ZM440.2,1429.9L438.7,1429.9L415.8,1418.6L415.8,1404.4ZM415.8,1404.4L415.8,1418.6L394.6,1407.9L391.3,1404.4ZM391.3,1406.3L391.3,1404.4L394.6,1407.9ZM391.3,1404.4L391.3,1406.3L387.7,1404.4ZM513.6,1433.0L513.6,1455.4L489.2,1429.9L507.4,1429.9ZM513.6,1455.4L490.8,1455.4L489.2,1454.6L489.2,1429.9ZM489.2,1429.9L489.2,1454.6L487.8,1454.0L464.7,1429.9ZM464.7,1442.7L464.7,1429.9L487.8,1454.0ZM464.7,1429.9L464.7,1442.7L441.7,1431.4L440.2,1429.9ZM440.2,1430.7L440.2,1429.9L441.7,1431.4ZM440.2,1429.9L440.2,1430.7L438.7,1429.9ZM513.6,1455.4L513.6,1466.4L490.8,1455.4Z" fill="#32f066" stroke="#32f066" stroke-width="0.5" stroke-linejoin="round"/>
<path d="M489.2,1060.6L489.2,1047.8L507.7,1047.8ZM507.7,1047.8L489.2,1047.8L513.6,1022.3L513.6,1043.7ZM489.2,1047.8L489.2,1022.3L513.6,1022.3ZM513.6,1022.3L489.2,1022.3L511.8,998.8L513.6,997.5ZM489.2,1022.3L489.2,1014.1L511.8,998.8ZM464.7,1077.6L464.7,1073.3L470.9,1073.3ZM470.9,1073.3L464.7,1073.3L489.2,1047.8L489.2,1060.6ZM464.7,1073.3L464.7,1047.8L489.2,1047.8ZM489.2,1047.8L464.7,1047.8L489.2,1022.3ZM464.7,1047.8L464.7,1030.9L477.2,1022.3L489.2,1022.3ZM489.2,1022.3L477.2,1022.3L489.2,1014.1ZM452.0,1086.5L464.7,1073.3L464.7,1077.6ZM440.2,1094.7L440.2,1073.3L464.7,1073.3L452.0,1086.5ZM464.7,1073.3L440.2,1073.3L464.7,1047.8ZM440.2,1073.3L440.2,1047.8L440.3,1047.8L464.7,1047.8ZM464.7,1047.8L440.3,1047.8L464.7,1030.9ZM415.8,1112.1L415.8,1098.8L434.5,1098.8ZM434.5,1098.8L415.8,1098.8L440.2,1073.3L440.2,1094.7ZM415.8,1098.8L415.8,1073.3L440.2,1073.3ZM440.2,1073.3L415.8,1073.3L440.1,1047.9L440.2,1047.8ZM415.8,1073.3L415.8,1064.9L440.1,1047.9ZM391.3,1129.6L391.3,1124.2L398.7,1124.2ZM398.7,1124.2L391.3,1124.2L415.8,1098.8L415.8,1112.1ZM391.3,1124.2L391.3,1098.8L415.8,1098.8ZM415.8,1098.8L391.3,1098.8L415.8,1073.3ZM391.3,1098.8L391.3,1082.2L403.9,1073.3L415.8,1073.3ZM415.8,1073.3L403.9,1073.3L415.8,1064.9ZM374.5,1141.7L391.3,1124.2L391.3,1129.6ZM366.8,1147.2L366.8,1124.2L391.3,1124.2L374.5,1141.7ZM391.3,1124.2L366.8,1124.2L391.3,1098.8ZM366.8,1124.2L366.8,1099.6L368.1,1098.8L391.3,1098.8ZM391.3,1098.8L368.1,1098.8L391.3,1082.2ZM342.4,1165.1L342.4,1149.7L363.4,1149.7ZM363.4,1149.7L342.4,1149.7L366.8,1124.2L366.8,1147.2ZM342.4,1149.7L342.4,1124.2L366.8,1124.2ZM366.8,1124.2L342.4,1124.2L364.0,1101.7L366.8,1099.6ZM317.9,1183.1L317.9,1175.2L328.6,1175.2ZM328.6,1175.2L317.9,1175.2L342.4,1149.7L342.4,1165.1ZM317.9,1175.2L317.9,1149.7L342.4,1149.7ZM342.4,1149.7L317.9,1149.7L342.4,1124.2ZM293.4,1201.3L293.4,1200.6L294.3,1200.6ZM294.3,1200.6L293.4,1200.6L317.9,1175.2L317.9,1183.1ZM293.4,1200.6L293.4,1175.2L317.9,1175.2ZM317.9,1175.2L293.4,1175.2L317.9,1149.7ZM291.2,1202.9L293.4,1200.6L293.4,1201.3ZM268.9,1219.7L268.9,1200.6L293.4,1200.6L291.2,1202.9ZM293.4,1200.6L268.9,1200.6L293.4,1175.2ZM244.5,1238.2L244.5,1226.1L260.4,1226.1ZM260.4,1226.1L244.5,1226.1L268.9,1200.6L268.9,1219.7ZM227.0,1251.6L220.0,1251.6L244.5,1226.1L244.5,1238.2ZM629.0,1244.3L636.0,1251.6L633.1,1251.6ZM618.9,1226.1L636.0,1226.1L636.0,1251.6L629.0,1244.3ZM636.0,1251.6L636.0,1226.1L658.4,1249.5L659.6,1251.6ZM636.0,1226.1L645.5,1226.1L658.4,1249.5ZM604.6,1200.6L611.5,1200.6L611.5,1213.0ZM611.5,1213.0L611.5,1200.6L636.0,1226.1L618.9,1226.1ZM611.5,1200.6L631.3,1200.6L636.0,1209.0L636.0,1226.1ZM636.0,1226.1L636.0,1209.0L645.5,1226.1ZM594.5,1182.9L611.5,1200.6L604.6,1200.6ZM590.1,1175.2L611.5,1175.2L611.5,1200.6L594.5,1182.9ZM611.5,1200.6L611.5,1175.2L624.7,1188.9L631.3,1200.6ZM611.5,1175.2L617.0,1175.2L624.7,1188.9ZM575.6,1149.7L587.1,1149.7L587.1,1169.8ZM587.1,1169.8L587.1,1149.7L611.5,1175.2L590.1,1175.2ZM587.1,1149.7L602.6,1149.7L611.5,1165.5L611.5,1175.2ZM611.5,1175.2L611.5,1165.5L617.0,1175.2ZM560.9,1124.2L562.6,1124.2L562.6,1127.2ZM562.6,1127.2L562.6,1124.2L587.1,1149.7L575.6,1149.7ZM562.6,1124.2L587.1,1124.2L587.1,1149.7ZM587.1,1149.7L587.1,1124.2L589.4,1126.6L602.6,1149.7ZM587.1,1124.2L588.0,1124.2L589.4,1126.6ZM558.2,1119.7L562.6,1124.2L560.9,1124.2ZM546.1,1098.8L562.6,1098.8L562.6,1124.2L558.2,1119.7ZM562.6,1124.2L562.6,1098.8L587.1,1124.2ZM562.6,1098.8L573.3,1098.8L587.1,1122.6L587.1,1124.2ZM587.1,1124.2L587.1,1122.6L588.0,1124.2ZM531.1,1073.3L538.1,1073.3L538.1,1085.2ZM538.1,1085.2L538.1,1073.3L562.6,1098.8L546.1,1098.8ZM538.1,1073.3L558.5,1073.3L562.6,1080.3L562.6,1098.8ZM562.6,1098.8L562.6,1080.3L573.3,1098.8ZM519.9,1054.3L538.1,1073.3L531.1,1073.3ZM516.1,1047.8L538.1,1047.8L538.1,1073.3L519.9,1054.3ZM538.1,1073.3L538.1,1047.8L552.0,1062.3L558.5,1073.3ZM538.1,1047.8L543.5,1047.8L552.0,1062.3ZM513.6,1043.7L513.6,1022.3L538.1,1047.8L516.1,1047.8ZM513.6,1022.3L528.5,1022.3L538.1,1038.6L538.1,1047.8ZM538.1,1047.8L538.1,1038.6L543.5,1047.8ZM513.6,1022.3L513.6,997.5L528.5,1022.3ZM538.1,1371.9L538.1,1379.0L532.4,1379.0ZM532.4,1379.0L538.1,1379.0L513.6,1404.4L513.6,1402.0ZM538.1,1379.0L538.1,1404.4L513.6,1404.4ZM513.6,1404.4L538.1,1404.4L513.6,1429.9ZM538.1,1404.4L538.1,1405.6L518.2,1429.9L513.6,1429.9ZM513.6,1429.9L518.2,1429.9L513.6,1435.4ZM562.6,1341.4L562.6,1353.5L552.9,1353.5ZM552.9,1353.5L562.6,1353.5L538.1,1379.0L538.1,1371.9ZM562.6,1353.5L562.6,1375.3L559.6,1379.0L538.1,1379.0ZM538.1,1379.0L559.6,1379.0L543.8,1398.6L538.1,1404.4ZM539.0,1404.4L538.1,1404.4L543.8,1398.6ZM538.1,1404.4L539.0,1404.4L538.1,1405.6ZM587.1,1310.6L587.1,1328.0L573.3,1328.0ZM573.3,1328.0L587.1,1328.0L562.6,1353.5L562.6,1341.4ZM587.1,1328.0L587.1,1344.7L580.0,1353.5L562.6,1353.5ZM562.6,1353.5L580.0,1353.5L562.6,1375.3ZM611.5,1279.4L611.5,1302.5L593.4,1302.5ZM593.4,1302.5L611.5,1302.5L587.1,1328.0L587.1,1310.6ZM611.5,1302.5L611.5,1313.7L600.2,1328.0L587.1,1328.0ZM587.1,1328.0L600.2,1328.0L587.1,1344.7ZM633.1,1251.6L636.0,1251.6L620.8,1267.4ZM636.0,1251.6L636.0,1277.1L613.3,1277.1L620.8,1267.4ZM613.3,1277.1L636.0,1277.1L611.5,1302.5L611.5,1279.4ZM636.0,1277.1L636.0,1282.3L620.2,1302.5L611.5,1302.5ZM611.5,1302.5L620.2,1302.5L611.5,1313.7ZM636.0,1251.6L659.6,1251.6L656.2,1256.1L636.0,1277.1ZM640.0,1277.1L636.0,1277.1L656.2,1256.1ZM636.0,1277.1L640.0,1277.1L636.0,1282.3ZM273.0,1277.1L268.9,1277.1L268.9,1274.8ZM268.9,1274.8L268.9,1277.1L264.3,1272.3ZM268.9,1277.1L244.5,1277.1L244.5,1261.3L264.3,1272.3ZM244.5,1261.3L244.5,1277.1L220.0,1251.6L227.0,1251.6ZM320.1,1302.5L317.9,1302.5L317.9,1301.4ZM317.9,1301.4L317.9,1302.5L315.5,1300.1ZM317.9,1302.5L293.4,1302.5L293.4,1288.2L315.5,1300.1ZM293.4,1288.2L293.4,1302.5L268.9,1277.1L273.0,1277.1ZM293.4,1302.5L268.9,1302.5L268.9,1277.1ZM268.9,1277.1L268.9,1302.5L244.5,1277.1ZM368.1,1328.0L366.8,1328.0L366.8,1327.3ZM366.8,1327.3L366.8,1328.0L365.5,1326.6ZM366.8,1328.0L342.4,1328.0L342.4,1314.4L365.5,1326.6ZM342.4,1314.4L342.4,1328.0L317.9,1302.5L320.1,1302.5ZM342.4,1328.0L317.9,1328.0L317.9,1302.5ZM317.9,1302.5L317.9,1328.0L293.4,1302.5ZM317.9,1328.0L302.3,1328.0L293.4,1323.3L293.4,1302.5ZM293.4,1302.5L293.4,1323.3L284.0,1318.2L268.9,1302.5ZM417.2,1353.5L415.8,1353.5L415.8,1352.8ZM415.8,1352.8L415.8,1353.5L414.3,1352.0ZM415.8,1353.5L391.3,1353.5L391.3,1340.1L414.3,1352.0ZM391.3,1340.1L391.3,1353.5L366.8,1328.0L368.1,1328.0ZM391.3,1353.5L366.8,1353.5L366.8,1328.0ZM366.8,1328.0L366.8,1353.5L342.4,1328.0ZM366.8,1353.5L350.7,1353.5L342.4,1349.1L342.4,1328.0ZM342.4,1328.0L342.4,1349.1L333.9,1344.7L317.9,1328.0ZM317.9,1336.3L317.9,1328.0L333.9,1344.7ZM317.9,1328.0L317.9,1336.3L302.3,1328.0ZM467.4,1379.0L464.7,1379.0L464.7,1377.6ZM464.7,1377.6L464.7,1379.0L462.2,1376.4ZM464.7,1379.0L440.2,1379.0L440.2,1365.3L462.2,1376.4ZM440.2,1365.3L440.2,1379.0L415.8,1353.5L417.2,1353.5ZM440.2,1379.0L415.8,1379.0L415.8,1353.5ZM415.8,1353.5L415.8,1379.0L391.3,1353.5ZM415.8,1379.0L400.1,1379.0L391.3,1374.5L391.3,1353.5ZM391.3,1353.5L391.3,1374.5L382.7,1370.0L366.8,1353.5ZM366.8,1361.9L366.8,1353.5L382.7,1370.0ZM366.8,1353.5L366.8,1361.9L350.7,1353.5ZM513.6,1402.0L513.6,1404.4L509.1,1399.7ZM513.6,1404.4L489.2,1404.4L489.2,1389.9L509.1,1399.7ZM489.2,1389.9L489.2,1404.4L464.7,1379.0L467.4,1379.0ZM489.2,1404.4L464.7,1404.4L464.7,1379.0ZM464.7,1379.0L464.7,1404.4L440.2,1379.0ZM464.7,1404.4L450.7,1404.4L440.2,1399.2L440.2,1379.0ZM440.2,1379.0L440.2,1399.2L430.5,1394.3L415.8,1379.0ZM415.8,1386.9L415.8,1379.0L430.5,1394.3ZM415.8,1379.0L415.8,1386.9L400.1,1379.0ZM513.6,1404.4L513.6,1429.9L489.2,1404.4ZM513.6,1429.9L502.3,1429.9L489.2,1423.5L489.2,1404.4ZM489.2,1404.4L489.2,1423.5L477.4,1417.7L464.7,1404.4ZM464.7,1411.4L464.7,1404.4L477.4,1417.7ZM464.7,1404.4L464.7,1411.4L450.7,1404.4ZM513.6,1429.9L513.6,1435.4L502.3,1429.9Z" fill="#32f0bc" stroke="#32f0bc" stroke-width="0.5" stroke-linejoin="round"/>
<path d="M489.2,1103.6L489.2,1098.8L496.1,1098.8ZM496.1,1098.8L489.2,1098.8L513.6,1073.3L513.6,1086.5ZM489.2,1098.8L489.2,1073.3L513.6,1073.3ZM513.6,1073.3L489.2,1073.3L513.6,1047.8ZM489.2,1073.3L489.2,1057.1L502.7,1047.8L513.6,1047.8ZM513.6,1047.8L502.7,1047.8L513.6,1040.3ZM474.8,1113.7L489.2,1098.8L489.2,1103.6ZM464.7,1120.8L464.7,1098.8L489.2,1098.8L474.8,1113.7ZM489.2,1098.8L464.7,1098.8L489.2,1073.3ZM464.7,1098.8L464.7,1074.1L465.9,1073.3L489.2,1073.3ZM489.2,1073.3L465.9,1073.3L489.2,1057.1ZM440.2,1138.2L440.2,1124.2L459.8,1124.2ZM459.8,1124.2L440.2,1124.2L464.7,1098.8L464.7,1120.8ZM440.2,1124.2L440.2,1098.8L464.7,1098.8ZM464.7,1098.8L440.2,1098.8L462.2,1075.9L464.7,1074.1ZM440.2,1098.8L440.2,1091.3L462.2,1075.9ZM415.8,1155.7L415.8,1149.7L424.1,1149.7ZM424.1,1149.7L415.8,1149.7L440.2,1124.2L440.2,1138.2ZM415.8,1149.7L415.8,1124.2L440.2,1124.2ZM440.2,1124.2L415.8,1124.2L440.2,1098.8ZM415.8,1124.2L415.8,1108.6L429.6,1098.8L440.2,1098.8ZM440.2,1098.8L429.6,1098.8L440.2,1091.3ZM396.9,1169.4L415.8,1149.7L415.8,1155.7ZM391.3,1173.4L391.3,1149.7L415.8,1149.7L396.9,1169.4ZM415.8,1149.7L391.3,1149.7L415.8,1124.2ZM391.3,1149.7L391.3,1126.1L393.8,1124.2L415.8,1124.2ZM415.8,1124.2L393.8,1124.2L415.8,1108.6ZM366.8,1191.3L366.8,1175.2L388.9,1175.2ZM388.9,1175.2L366.8,1175.2L391.3,1149.7L391.3,1173.4ZM366.8,1175.2L366.8,1149.7L391.3,1149.7ZM391.3,1149.7L366.8,1149.7L385.6,1130.2L391.3,1126.1ZM366.8,1149.7L366.8,1143.7L385.6,1130.2ZM342.4,1209.3L342.4,1200.6L354.1,1200.6ZM354.1,1200.6L342.4,1200.6L366.8,1175.2L366.8,1191.3ZM342.4,1200.6L342.4,1175.2L366.8,1175.2ZM366.8,1175.2L342.4,1175.2L366.8,1149.7ZM342.4,1175.2L342.4,1161.5L358.6,1149.7L366.8,1149.7ZM366.8,1149.7L358.6,1149.7L366.8,1143.7ZM317.9,1227.6L317.9,1226.1L319.8,1226.1ZM319.8,1226.1L317.9,1226.1L342.4,1200.6L342.4,1209.3ZM317.9,1226.1L317.9,1200.6L342.4,1200.6ZM342.4,1200.6L317.9,1200.6L342.4,1175.2ZM317.9,1200.6L317.9,1179.5L323.8,1175.2L342.4,1175.2ZM342.4,1175.2L323.8,1175.2L342.4,1161.5ZM312.8,1231.4L317.9,1226.1L317.9,1227.6ZM293.4,1246.0L293.4,1226.1L317.9,1226.1L312.8,1231.4ZM317.9,1226.1L293.4,1226.1L317.9,1200.6ZM293.4,1226.1L293.4,1200.6L317.9,1200.6ZM317.9,1200.6L293.4,1200.6L303.3,1190.4L317.9,1179.5ZM293.4,1200.6L293.4,1197.7L303.3,1190.4ZM286.0,1251.6L268.9,1251.6L293.4,1226.1L293.4,1246.0ZM268.9,1251.6L268.9,1226.1L293.4,1226.1ZM293.4,1226.1L268.9,1226.1L293.4,1200.6ZM268.9,1226.1L268.9,1216.1L289.5,1200.6L293.4,1200.6ZM293.4,1200.6L289.5,1200.6L293.4,1197.7ZM268.9,1251.6L244.5,1251.6L268.9,1226.1ZM244.5,1251.6L244.5,1234.6L255.6,1226.1L268.9,1226.1ZM268.9,1226.1L255.6,1226.1L268.9,1216.1ZM244.5,1251.6L222.2,1251.6L244.5,1234.6ZM604.1,1243.9L611.5,1251.6L608.5,1251.6ZM594.2,1226.1L611.5,1226.1L611.5,1251.6L604.1,1243.9ZM611.5,1251.6L611.5,1226.1L633.7,1249.2L635.0,1251.6ZM611.5,1226.1L620.8,1226.1L633.7,1249.2ZM579.8,1200.6L587.1,1200.6L587.1,1213.5ZM587.1,1213.5L587.1,1200.6L611.5,1226.1L594.2,1226.1ZM587.1,1200.6L606.5,1200.6L611.5,1209.5L611.5,1226.1ZM611.5,1226.1L611.5,1209.5L620.8,1226.1ZM569.0,1181.9L587.1,1200.6L579.8,1200.6ZM565.2,1175.2L587.1,1175.2L587.1,1200.6L569.0,1181.9ZM587.1,1200.6L587.1,1175.2L599.3,1187.9L606.5,1200.6ZM587.1,1175.2L592.1,1175.2L599.3,1187.9ZM550.5,1149.7L562.6,1149.7L562.6,1170.6ZM562.6,1170.6L562.6,1149.7L587.1,1175.2L565.2,1175.2ZM562.6,1149.7L577.6,1149.7L587.1,1166.3L587.1,1175.2ZM587.1,1175.2L587.1,1166.3L592.1,1175.2ZM535.8,1124.2L538.1,1124.2L538.1,1128.3ZM538.1,1128.3L538.1,1124.2L562.6,1149.7L550.5,1149.7ZM538.1,1124.2L562.6,1124.2L562.6,1149.7ZM562.6,1149.7L562.6,1124.2L563.3,1125.0L577.6,1149.7ZM562.6,1124.2L562.9,1124.2L563.3,1125.0ZM532.1,1117.9L538.1,1124.2L535.8,1124.2ZM520.8,1098.8L538.1,1098.8L538.1,1124.2L532.1,1117.9ZM538.1,1124.2L538.1,1098.8L562.6,1124.2ZM538.1,1098.8L548.1,1098.8L562.6,1123.7L562.6,1124.2ZM562.6,1124.2L562.6,1123.7L562.9,1124.2ZM513.6,1086.5L513.6,1073.3L538.1,1098.8L520.8,1098.8ZM513.6,1073.3L533.2,1073.3L538.1,1081.7L538.1,1098.8ZM538.1,1098.8L538.1,1081.7L548.1,1098.8ZM513.6,1073.3L513.6,1047.8L525.2,1059.8L533.2,1073.3ZM513.6,1047.8L518.1,1047.8L525.2,1059.8ZM513.6,1047.8L513.6,1040.3L518.1,1047.8ZM538.1,1340.7L538.1,1353.5L527.8,1353.5ZM527.8,1353.5L538.1,1353.5L513.6,1379.0L513.6,1371.0ZM538.1,1353.5L538.1,1374.4L534.4,1379.0L513.6,1379.0ZM513.6,1379.0L534.4,1379.0L513.8,1404.3L513.6,1404.4ZM513.7,1404.4L513.6,1404.4L513.8,1404.3ZM513.6,1404.4L513.7,1404.4L513.6,1404.5ZM562.6,1310.1L562.6,1328.0L548.3,1328.0ZM548.3,1328.0L562.6,1328.0L538.1,1353.5L538.1,1340.7ZM562.6,1328.0L562.6,1343.9L554.9,1353.5L538.1,1353.5ZM538.1,1353.5L554.9,1353.5L538.1,1374.4ZM587.1,1279.1L587.1,1302.5L568.6,1302.5ZM568.6,1302.5L587.1,1302.5L562.6,1328.0L562.6,1310.1ZM587.1,1302.5L587.1,1313.1L575.3,1328.0L562.6,1328.0ZM562.6,1328.0L575.3,1328.0L562.6,1343.9ZM608.5,1251.6L611.5,1251.6L595.3,1268.5ZM611.5,1251.6L611.5,1277.1L588.6,1277.1L595.3,1268.5ZM588.6,1277.1L611.5,1277.1L587.1,1302.5L587.1,1279.1ZM611.5,1277.1L611.5,1281.9L595.4,1302.5L587.1,1302.5ZM587.1,1302.5L595.4,1302.5L587.1,1313.1ZM611.5,1251.6L635.0,1251.6L631.0,1256.9L611.5,1277.1ZM615.3,1277.1L611.5,1277.1L631.0,1256.9ZM611.5,1277.1L615.3,1277.1L611.5,1281.9ZM332.7,1277.1L317.9,1277.1L317.9,1269.1ZM317.9,1269.1L317.9,1277.1L301.6,1260.2ZM317.9,1277.1L293.4,1277.1L293.4,1255.7L301.6,1260.2ZM293.4,1255.7L293.4,1277.1L268.9,1251.6L286.0,1251.6ZM293.4,1277.1L268.9,1277.1L268.9,1251.6ZM268.9,1251.6L268.9,1277.1L244.5,1251.6ZM268.9,1277.1L268.3,1277.1L244.5,1264.0L244.5,1251.6ZM244.5,1251.6L244.5,1264.0L222.2,1251.6ZM380.4,1302.5L366.8,1302.5L366.8,1295.4ZM366.8,1295.4L366.8,1302.5L352.6,1287.8ZM366.8,1302.5L342.4,1302.5L342.4,1282.3L352.6,1287.8ZM342.4,1282.3L342.4,1302.5L317.9,1277.1L332.7,1277.1ZM342.4,1302.5L317.9,1302.5L317.9,1277.1ZM317.9,1277.1L317.9,1302.5L293.4,1277.1ZM317.9,1302.5L315.3,1302.5L293.4,1290.8L293.4,1277.1ZM293.4,1277.1L293.4,1290.8L269.7,1277.9L268.9,1277.1ZM268.9,1277.4L268.9,1277.1L269.7,1277.9ZM268.9,1277.1L268.9,1277.4L268.3,1277.1ZM429.1,1328.0L415.8,1328.0L415.8,1321.1ZM415.8,1321.1L415.8,1328.0L402.4,1314.1ZM415.8,1328.0L391.3,1328.0L391.3,1308.3L402.4,1314.1ZM391.3,1308.3L391.3,1328.0L366.8,1302.5L380.4,1302.5ZM391.3,1328.0L366.8,1328.0L366.8,1302.5ZM366.8,1302.5L366.8,1328.0L342.4,1302.5ZM366.8,1328.0L363.2,1328.0L342.4,1317.0L342.4,1302.5ZM342.4,1302.5L342.4,1317.0L320.6,1305.4L317.9,1302.5ZM317.9,1304.0L317.9,1302.5L320.6,1305.4ZM317.9,1302.5L317.9,1304.0L315.3,1302.5ZM478.8,1353.5L464.7,1353.5L464.7,1346.3ZM464.7,1346.3L464.7,1353.5L451.1,1339.4ZM464.7,1353.5L440.2,1353.5L440.2,1333.8L451.1,1339.4ZM440.2,1333.8L440.2,1353.5L415.8,1328.0L429.1,1328.0ZM440.2,1353.5L415.8,1353.5L415.8,1328.0ZM415.8,1328.0L415.8,1353.5L391.3,1328.0ZM415.8,1353.5L412.3,1353.5L391.3,1342.7L391.3,1328.0ZM391.3,1328.0L391.3,1342.7L370.4,1331.8L366.8,1328.0ZM366.8,1329.9L366.8,1328.0L370.4,1331.8ZM366.8,1328.0L366.8,1329.9L363.2,1328.0ZM513.6,1371.0L513.6,1379.0L498.9,1363.6ZM513.6,1379.0L489.2,1379.0L489.2,1358.7L498.9,1363.6ZM489.2,1358.7L489.2,1379.0L464.7,1353.5L478.8,1353.5ZM489.2,1379.0L464.7,1379.0L464.7,1353.5ZM464.7,1353.5L464.7,1379.0L440.2,1353.5ZM464.7,1379.0L462.4,1379.0L440.2,1367.8L440.2,1353.5ZM440.2,1353.5L440.2,1367.8L419.1,1357.0L415.8,1353.5ZM415.8,1355.3L415.8,1353.5L419.1,1357.0ZM415.8,1353.5L415.8,1355.3L412.3,1353.5ZM513.6,1379.0L513.6,1404.4L489.2,1379.0ZM513.6,1404.4L513.6,1404.4L489.2,1392.4L489.2,1379.0ZM489.2,1379.0L489.2,1392.4L466.8,1381.2L464.7,1379.0ZM464.7,1380.1L464.7,1379.0L466.8,1381.2ZM464.7,1379.0L464.7,1380.1L462.4,1379.0ZM513.6,1404.4L513.6,1404.5L513.6,1404.4Z" fill="#32cdf0" stroke="#32cdf0" stroke-width="0.5" stroke-linejoin="round"/>
<path d="M498.4,1140.1L513.6,1124.2L513.6,1129.3ZM489.2,1146.6L489.2,1124.2L513.6,1124.2L498.4,1140.1ZM513.6,1124.2L489.2,1124.2L513.6,1098.8ZM489.2,1124.2L489.2,1100.1L491.2,1098.8L513.6,1098.8ZM513.6,1098.8L491.2,1098.8L513.6,1083.1ZM464.7,1164.0L464.7,1149.7L484.8,1149.7ZM484.8,1149.7L464.7,1149.7L489.2,1124.2L489.2,1146.6ZM464.7,1149.7L464.7,1124.2L489.2,1124.2ZM489.2,1124.2L464.7,1124.2L485.0,1103.1L489.2,1100.1ZM464.7,1124.2L464.7,1117.3L485.0,1103.1ZM440.2,1181.6L440.2,1175.2L449.1,1175.2ZM449.1,1175.2L440.2,1175.2L464.7,1149.7L464.7,1164.0ZM440.2,1175.2L440.2,1149.7L464.7,1149.7ZM464.7,1149.7L440.2,1149.7L464.7,1124.2ZM440.2,1149.7L440.2,1134.7L455.0,1124.2L464.7,1124.2ZM464.7,1124.2L455.0,1124.2L464.7,1117.3ZM419.9,1196.3L440.2,1175.2L440.2,1181.6ZM415.8,1199.3L415.8,1175.2L440.2,1175.2L419.9,1196.3ZM440.2,1175.2L415.8,1175.2L440.2,1149.7ZM415.8,1175.2L415.8,1152.2L419.3,1149.7L440.2,1149.7ZM440.2,1149.7L419.3,1149.7L440.2,1134.7ZM391.3,1217.2L391.3,1200.6L414.0,1200.6ZM414.0,1200.6L391.3,1200.6L415.8,1175.2L415.8,1199.3ZM391.3,1200.6L391.3,1175.2L415.8,1175.2ZM415.8,1175.2L391.3,1175.2L407.9,1157.9L415.8,1152.2ZM391.3,1175.2L391.3,1169.9L407.9,1157.9ZM366.8,1235.3L366.8,1226.1L379.3,1226.1ZM379.3,1226.1L366.8,1226.1L391.3,1200.6L391.3,1217.2ZM366.8,1226.1L366.8,1200.6L391.3,1200.6ZM391.3,1200.6L366.8,1200.6L391.3,1175.2ZM366.8,1200.6L366.8,1187.8L384.0,1175.2L391.3,1175.2ZM391.3,1175.2L384.0,1175.2L391.3,1169.9ZM345.0,1251.6L342.4,1251.6L366.8,1226.1L366.8,1235.3ZM342.4,1251.6L342.4,1226.1L366.8,1226.1ZM366.8,1226.1L342.4,1226.1L366.8,1200.6ZM342.4,1226.1L342.4,1205.8L349.3,1200.6L366.8,1200.6ZM366.8,1200.6L349.3,1200.6L366.8,1187.8ZM342.4,1251.6L317.9,1251.6L342.4,1226.1ZM317.9,1251.6L317.9,1226.1L342.4,1226.1ZM342.4,1226.1L317.9,1226.1L325.0,1218.7L342.4,1205.8ZM317.9,1226.1L317.9,1224.0L325.0,1218.7ZM317.9,1251.6L293.4,1251.6L317.9,1226.1ZM293.4,1251.6L293.4,1242.4L315.1,1226.1L317.9,1226.1ZM317.9,1226.1L315.1,1226.1L317.9,1224.0ZM293.4,1251.6L281.3,1251.6L293.4,1242.4ZM579.3,1243.5L587.1,1251.6L583.9,1251.6ZM569.5,1226.1L587.1,1226.1L587.1,1251.6L579.3,1243.5ZM587.1,1251.6L587.1,1226.1L608.9,1248.9L610.4,1251.6ZM587.1,1226.1L596.1,1226.1L608.9,1248.9ZM555.0,1200.6L562.6,1200.6L562.6,1214.0ZM562.6,1214.0L562.6,1200.6L587.1,1226.1L569.5,1226.1ZM562.6,1200.6L581.7,1200.6L587.1,1210.0L587.1,1226.1ZM587.1,1226.1L587.1,1210.0L596.1,1226.1ZM543.6,1180.8L562.6,1200.6L555.0,1200.6ZM540.3,1175.2L562.6,1175.2L562.6,1200.6L543.6,1180.8ZM562.6,1200.6L562.6,1175.2L573.9,1187.0L581.7,1200.6ZM562.6,1175.2L567.2,1175.2L573.9,1187.0ZM525.5,1149.7L538.1,1149.7L538.1,1171.4ZM538.1,1171.4L538.1,1149.7L562.6,1175.2L540.3,1175.2ZM538.1,1149.7L552.6,1149.7L562.6,1167.1L562.6,1175.2ZM562.6,1175.2L562.6,1167.1L567.2,1175.2ZM513.6,1129.3L513.6,1124.2L538.1,1149.7L525.5,1149.7ZM513.6,1124.2L537.8,1124.2L538.1,1124.8L538.1,1149.7ZM538.1,1149.7L538.1,1124.8L552.6,1149.7ZM513.6,1124.2L513.6,1098.8L537.2,1123.3L537.8,1124.2ZM513.6,1098.8L522.9,1098.8L537.2,1123.3ZM513.6,1098.8L513.6,1083.1L522.9,1098.8ZM538.1,1309.6L538.1,1328.0L523.3,1328.0ZM523.3,1328.0L538.1,1328.0L513.6,1353.5L513.6,1340.1ZM538.1,1328.0L538.1,1343.2L529.9,1353.5L513.6,1353.5ZM513.6,1353.5L529.9,1353.5L513.6,1373.5ZM562.6,1278.7L562.6,1302.5L543.7,1302.5ZM543.7,1302.5L562.6,1302.5L538.1,1328.0L538.1,1309.6ZM562.6,1302.5L562.6,1312.6L550.3,1328.0L538.1,1328.0ZM538.1,1328.0L550.3,1328.0L538.1,1343.2ZM583.9,1251.6L587.1,1251.6L569.7,1269.7ZM587.1,1251.6L587.1,1277.1L563.9,1277.1L569.7,1269.7ZM563.9,1277.1L587.1,1277.1L562.6,1302.5L562.6,1278.7ZM587.1,1277.1L587.1,1281.6L570.6,1302.5L562.6,1302.5ZM562.6,1302.5L570.6,1302.5L562.6,1312.6ZM587.1,1251.6L610.4,1251.6L605.7,1257.6L587.1,1277.1ZM590.6,1277.1L587.1,1277.1L605.7,1257.6ZM587.1,1277.1L590.6,1277.1L587.1,1281.6ZM392.3,1277.1L391.3,1277.1L391.3,1276.5ZM391.3,1276.5L391.3,1277.1L390.2,1275.9ZM391.3,1277.1L366.8,1277.1L366.8,1263.4L390.2,1275.9ZM366.8,1263.4L366.8,1277.1L342.4,1251.6L345.0,1251.6ZM366.8,1277.1L342.4,1277.1L342.4,1251.6ZM342.4,1251.6L342.4,1277.1L317.9,1251.6ZM342.4,1277.1L327.9,1277.1L317.9,1271.6L317.9,1251.6ZM317.9,1251.6L317.9,1271.6L306.9,1265.6L293.4,1251.6ZM293.4,1258.3L293.4,1251.6L306.9,1265.6ZM293.4,1251.6L293.4,1258.3L281.3,1251.6ZM440.6,1302.5L440.2,1302.5L440.2,1302.3ZM440.2,1302.3L440.2,1302.5L439.8,1302.1ZM440.2,1302.5L415.8,1302.5L415.8,1289.5L439.8,1302.1ZM415.8,1289.5L415.8,1302.5L391.3,1277.1L392.3,1277.1ZM415.8,1302.5L391.3,1302.5L391.3,1277.1ZM391.3,1277.1L391.3,1302.5L366.8,1277.1ZM391.3,1302.5L375.5,1302.5L366.8,1297.9L366.8,1277.1ZM366.8,1277.1L366.8,1297.9L357.7,1293.0L342.4,1277.1ZM342.4,1284.9L342.4,1277.1L357.7,1293.0ZM342.4,1277.1L342.4,1284.9L327.9,1277.1ZM490.0,1328.0L489.2,1328.0L489.2,1327.6ZM489.2,1327.6L489.2,1328.0L488.4,1327.2ZM489.2,1328.0L464.7,1328.0L464.7,1315.0L488.4,1327.2ZM464.7,1315.0L464.7,1328.0L440.2,1302.5L440.6,1302.5ZM464.7,1328.0L440.2,1328.0L440.2,1302.5ZM440.2,1302.5L440.2,1328.0L415.8,1302.5ZM440.2,1328.0L424.2,1328.0L415.8,1323.7L415.8,1302.5ZM415.8,1302.5L415.8,1323.7L407.3,1319.2L391.3,1302.5ZM391.3,1310.9L391.3,1302.5L407.3,1319.2ZM391.3,1302.5L391.3,1310.9L375.5,1302.5ZM513.6,1340.1L513.6,1353.5L489.2,1328.0L490.0,1328.0ZM513.6,1353.5L489.2,1353.5L489.2,1328.0ZM489.2,1328.0L489.2,1353.5L464.7,1328.0ZM489.2,1353.5L473.9,1353.5L464.7,1348.8L464.7,1328.0ZM464.7,1328.0L464.7,1348.8L455.9,1344.3L440.2,1328.0ZM440.2,1336.3L440.2,1328.0L455.9,1344.3ZM440.2,1328.0L440.2,1336.3L424.2,1328.0ZM513.6,1353.5L513.6,1373.5L503.5,1368.4L489.2,1353.5ZM489.2,1361.2L489.2,1353.5L503.5,1368.4ZM489.2,1353.5L489.2,1361.2L473.9,1353.5Z" fill="#3277f0" stroke="#3277f0" stroke-width="0.5" stroke-linejoin="round"/>
<path d="M489.2,1189.6L489.2,1175.2L509.4,1175.2ZM509.4,1175.2L489.2,1175.2L513.6,1149.7L513.6,1172.2ZM489.2,1175.2L489.2,1149.7L513.6,1149.7ZM513.6,1149.7L489.2,1149.7L508.6,1129.5L513.6,1125.9ZM489.2,1149.7L489.2,1143.2L508.6,1129.5ZM464.7,1207.2L464.7,1200.6L473.8,1200.6ZM473.8,1200.6L464.7,1200.6L489.2,1175.2L489.2,1189.6ZM464.7,1200.6L464.7,1175.2L489.2,1175.2ZM489.2,1175.2L464.7,1175.2L489.2,1149.7ZM464.7,1175.2L464.7,1160.5L479.9,1149.7L489.2,1149.7ZM489.2,1149.7L479.9,1149.7L489.2,1143.2ZM443.8,1222.4L464.7,1200.6L464.7,1207.2ZM440.2,1225.0L440.2,1200.6L464.7,1200.6L443.8,1222.4ZM464.7,1200.6L440.2,1200.6L464.7,1175.2ZM440.2,1200.6L440.2,1178.1L444.3,1175.2L464.7,1175.2ZM464.7,1175.2L444.3,1175.2L464.7,1160.5ZM415.8,1243.0L415.8,1226.1L438.7,1226.1ZM438.7,1226.1L415.8,1226.1L440.2,1200.6L440.2,1225.0ZM415.8,1226.1L415.8,1200.6L440.2,1200.6ZM440.2,1200.6L415.8,1200.6L430.9,1184.8L440.2,1178.1ZM415.8,1200.6L415.8,1195.8L430.9,1184.8ZM404.1,1251.6L391.3,1251.6L415.8,1226.1L415.8,1243.0ZM391.3,1251.6L391.3,1226.1L415.8,1226.1ZM415.8,1226.1L391.3,1226.1L415.8,1200.6ZM391.3,1226.1L391.3,1213.7L409.2,1200.6L415.8,1200.6ZM415.8,1200.6L409.2,1200.6L415.8,1195.8ZM391.3,1251.6L366.8,1251.6L391.3,1226.1ZM366.8,1251.6L366.8,1231.8L374.5,1226.1L391.3,1226.1ZM391.3,1226.1L374.5,1226.1L391.3,1213.7ZM366.8,1251.6L342.4,1251.6L347.5,1246.2L366.8,1231.8ZM342.4,1251.6L342.4,1250.1L347.5,1246.2ZM342.4,1251.6L340.3,1251.6L342.4,1250.1ZM554.5,1243.1L562.6,1251.6L559.3,1251.6ZM544.8,1226.1L562.6,1226.1L562.6,1251.6L554.5,1243.1ZM562.6,1251.6L562.6,1226.1L584.1,1248.5L585.8,1251.6ZM562.6,1226.1L571.5,1226.1L584.1,1248.5ZM530.2,1200.6L538.1,1200.6L538.1,1214.5ZM538.1,1214.5L538.1,1200.6L562.6,1226.1L544.8,1226.1ZM538.1,1200.6L556.9,1200.6L562.6,1210.5L562.6,1226.1ZM562.6,1226.1L562.6,1210.5L571.5,1226.1ZM518.1,1179.8L538.1,1200.6L530.2,1200.6ZM515.4,1175.2L538.1,1175.2L538.1,1200.6L518.1,1179.8ZM538.1,1200.6L538.1,1175.2L548.5,1186.0L556.9,1200.6ZM538.1,1175.2L542.3,1175.2L548.5,1186.0ZM513.6,1172.2L513.6,1149.7L538.1,1175.2L515.4,1175.2ZM513.6,1149.7L527.5,1149.7L538.1,1167.9L538.1,1175.2ZM538.1,1175.2L538.1,1167.9L542.3,1175.2ZM513.6,1149.7L513.6,1125.9L527.5,1149.7ZM538.1,1278.4L538.1,1302.5L518.9,1302.5ZM518.9,1302.5L538.1,1302.5L513.6,1328.0L513.6,1309.1ZM538.1,1302.5L538.1,1312.1L525.3,1328.0L513.6,1328.0ZM513.6,1328.0L525.3,1328.0L513.6,1342.5ZM559.3,1251.6L562.6,1251.6L544.1,1270.9ZM562.6,1251.6L562.6,1277.1L539.2,1277.1L544.1,1270.9ZM539.2,1277.1L562.6,1277.1L538.1,1302.5L538.1,1278.4ZM562.6,1277.1L562.6,1281.2L545.7,1302.5L538.1,1302.5ZM538.1,1302.5L545.7,1302.5L538.1,1312.1ZM562.6,1251.6L585.8,1251.6L580.4,1258.5L562.6,1277.1ZM565.9,1277.1L562.6,1277.1L580.4,1258.5ZM562.6,1277.1L565.9,1277.1L562.6,1281.2ZM452.0,1277.1L440.2,1277.1L440.2,1270.9ZM440.2,1270.9L440.2,1277.1L428.0,1264.4ZM440.2,1277.1L415.8,1277.1L415.8,1257.9L428.0,1264.4ZM415.8,1257.9L415.8,1277.1L391.3,1251.6L404.1,1251.6ZM415.8,1277.1L391.3,1277.1L391.3,1251.6ZM391.3,1251.6L391.3,1277.1L366.8,1251.6ZM391.3,1277.1L387.6,1277.1L366.8,1266.0L366.8,1251.6ZM366.8,1251.6L366.8,1266.0L344.6,1253.9L342.4,1251.6ZM342.4,1252.7L342.4,1251.6L344.6,1253.9ZM342.4,1251.6L342.4,1252.7L340.3,1251.6ZM500.9,1302.5L489.2,1302.5L489.2,1296.5ZM489.2,1296.5L489.2,1302.5L477.5,1290.4ZM489.2,1302.5L464.7,1302.5L464.7,1283.7L477.5,1290.4ZM464.7,1283.7L464.7,1302.5L440.2,1277.1L452.0,1277.1ZM464.7,1302.5L440.2,1302.5L440.2,1277.1ZM440.2,1277.1L440.2,1302.5L415.8,1277.1ZM440.2,1302.5L435.8,1302.5L415.8,1292.0L415.8,1277.1ZM415.8,1277.1L415.8,1292.0L395.2,1281.1L391.3,1277.1ZM391.3,1279.1L391.3,1277.1L395.2,1281.1ZM391.3,1277.1L391.3,1279.1L387.6,1277.1ZM513.6,1309.1L513.6,1328.0L489.2,1302.5L500.9,1302.5ZM513.6,1328.0L489.2,1328.0L489.2,1302.5ZM489.2,1302.5L489.2,1328.0L464.7,1302.5ZM489.2,1328.0L485.1,1328.0L464.7,1317.5L464.7,1302.5ZM464.7,1302.5L464.7,1317.5L444.6,1307.1L440.2,1302.5ZM440.2,1304.9L440.2,1302.5L444.6,1307.1ZM440.2,1302.5L440.2,1304.9L435.8,1302.5ZM513.6,1328.0L513.6,1342.5L493.1,1332.1L489.2,1328.0ZM489.2,1330.1L489.2,1328.0L493.1,1332.1ZM489.2,1328.0L489.2,1330.1L485.1,1328.0Z" fill="#4432f0" stroke="#4432f0" stroke-width="0.5" stroke-linejoin="round"/>
<path d="M489.2,1232.6L489.2,1226.1L498.1,1226.1ZM498.1,1226.1L489.2,1226.1L513.6,1200.6L513.6,1215.0ZM489.2,1226.1L489.2,1200.6L513.6,1200.6ZM513.6,1200.6L489.2,1200.6L513.6,1175.2ZM489.2,1200.6L489.2,1186.2L504.6,1175.2L513.6,1175.2ZM513.6,1175.2L504.6,1175.2L513.6,1168.7ZM468.4,1247.7L489.2,1226.1L489.2,1232.6ZM464.7,1250.4L464.7,1226.1L489.2,1226.1L468.4,1247.7ZM489.2,1226.1L464.7,1226.1L489.2,1200.6ZM464.7,1226.1L464.7,1203.8L469.0,1200.6L489.2,1200.6ZM489.2,1200.6L469.0,1200.6L489.2,1186.2ZM463.1,1251.6L440.2,1251.6L464.7,1226.1L464.7,1250.4ZM440.2,1251.6L440.2,1226.1L464.7,1226.1ZM464.7,1226.1L440.2,1226.1L454.8,1211.0L464.7,1203.8ZM440.2,1226.1L440.2,1221.5L454.8,1211.0ZM440.2,1251.6L415.8,1251.6L440.2,1226.1ZM415.8,1251.6L415.8,1239.5L433.9,1226.1L440.2,1226.1ZM440.2,1226.1L433.9,1226.1L440.2,1221.5ZM415.8,1251.6L399.4,1251.6L415.8,1239.5ZM529.6,1242.7L538.1,1251.6L534.7,1251.6ZM520.1,1226.1L538.1,1226.1L538.1,1251.6L529.6,1242.7ZM538.1,1251.6L538.1,1226.1L559.3,1248.2L561.3,1251.6ZM538.1,1226.1L546.8,1226.1L559.3,1248.2ZM513.6,1215.0L513.6,1200.6L538.1,1226.1L520.1,1226.1ZM513.6,1200.6L532.1,1200.6L538.1,1211.0L538.1,1226.1ZM538.1,1226.1L538.1,1211.0L546.8,1226.1ZM513.6,1200.6L513.6,1175.2L523.1,1185.0L532.1,1200.6ZM513.6,1175.2L517.4,1175.2L523.1,1185.0ZM513.6,1175.2L513.6,1168.7L517.4,1175.2ZM534.7,1251.6L538.1,1251.6L518.4,1272.1ZM538.1,1251.6L538.1,1277.1L514.5,1277.1L518.4,1272.1ZM514.5,1277.1L538.1,1277.1L513.6,1302.5L513.6,1278.1ZM538.1,1277.1L538.1,1280.9L520.9,1302.5L513.6,1302.5ZM513.6,1302.5L520.9,1302.5L513.6,1311.6ZM538.1,1251.6L561.3,1251.6L555.1,1259.4L538.1,1277.1ZM541.2,1277.1L538.1,1277.1L555.1,1259.4ZM538.1,1277.1L541.2,1277.1L538.1,1280.9ZM511.6,1277.1L489.2,1277.1L489.2,1265.3ZM489.2,1265.3L489.2,1277.1L466.4,1253.3ZM489.2,1277.1L464.7,1277.1L464.7,1252.4L466.4,1253.3ZM464.7,1252.4L464.7,1277.1L440.2,1251.6L463.1,1251.6ZM464.7,1277.1L447.2,1277.1L440.2,1273.4L440.2,1251.6ZM440.2,1251.6L440.2,1273.4L433.0,1269.5L415.8,1251.6ZM415.8,1260.4L415.8,1251.6L433.0,1269.5ZM415.8,1251.6L415.8,1260.4L399.4,1251.6ZM513.6,1278.1L513.6,1302.5L489.2,1277.1L511.6,1277.1ZM513.6,1302.5L496.1,1302.5L489.2,1299.0L489.2,1277.1ZM489.2,1277.1L489.2,1299.0L482.3,1295.4L464.7,1277.1ZM464.7,1286.2L464.7,1277.1L482.3,1295.4ZM464.7,1277.1L464.7,1286.2L447.2,1277.1ZM513.6,1302.5L513.6,1311.6L496.1,1302.5Z" fill="#9a32f0" stroke="#9a32f0" stroke-width="0.5" stroke-linejoin="round"/>
<path d="M513.6,1251.6L489.2,1251.6L513.6,1226.1ZM489.2,1251.6L489.2,1229.2L493.4,1226.1L513.6,1226.1ZM513.6,1226.1L493.4,1226.1L513.6,1211.5ZM489.2,1251.6L464.7,1251.6L479.4,1236.3L489.2,1229.2ZM464.7,1251.6L464.7,1247.0L479.4,1236.3ZM464.7,1251.6L458.4,1251.6L464.7,1247.0ZM513.6,1251.6L513.6,1226.1L534.5,1247.8L536.7,1251.6ZM513.6,1226.1L522.1,1226.1L534.5,1247.8ZM513.6,1226.1L513.6,1211.5L522.1,1226.1ZM513.6,1251.6L536.7,1251.6L529.8,1260.3L513.6,1277.1ZM516.5,1277.1L513.6,1277.1L529.8,1260.3ZM513.6,1277.1L516.5,1277.1L513.6,1280.6ZM513.6,1251.6L513.6,1277.1L489.2,1251.6ZM513.6,1277.1L506.9,1277.1L489.2,1267.8L489.2,1251.6ZM489.2,1251.6L489.2,1267.8L471.2,1258.4L464.7,1251.6ZM464.7,1255.0L464.7,1251.6L471.2,1258.4ZM464.7,1251.6L464.7,1255.0L458.4,1251.6ZM513.6,1277.1L513.6,1280.6L506.9,1277.1Z" fill="#f032f0" stroke="#f032f0" stroke-width="0.5" stroke-linejoin="round"/>
<clipPath id="pcb"><rect x="220" y="945.9" width="587.3" height="611.4"/></clipPath>
<g clip-path="url(#pcb)"><ellipse cx="220.00" cy="1250.60" rx="36.6" ry="37.9" fill="#000"/><ellipse cx="513.65" cy="945.90" rx="36.6" ry="37.9" fill="#000"/><ellipse cx="513.65" cy="1250.60" rx="36.6" ry="37.9" fill="#000"/><ellipse cx="807.30" cy="1250.60" rx="36.6" ry="37.9" fill="#000"/><ellipse cx="513.65" cy="1557.30" rx="36.6" ry="37.9" fill="#000"/></g>
<rect x="220" y="945.9" width="587.3" height="611.4" fill="none" stroke="#5c5c5c" stroke-width="3" stroke-linejoin="round"/>
<text x="0" y="0" font-family="'Liberation Sans', Arial, sans-serif" font-weight="normal" font-size="34.600" fill="#111" transform="translate(141.61,956.31) scale(1,1.0925)">0.20</text>
<text x="0" y="0" font-family="'Liberation Sans', Arial, sans-serif" font-weight="normal" font-size="34.600" fill="#111" transform="translate(141.61,1109.16) scale(1,1.0925)">0.10</text>
<text x="0" y="0" font-family="'Liberation Sans', Arial, sans-serif" font-weight="normal" font-size="34.600" fill="#111" transform="translate(141.61,1262.01) scale(1,1.0925)">0.00</text>
<text x="0" y="0" font-family="'Liberation Sans', Arial, sans-serif" font-weight="normal" font-size="34.600" fill="#111" transform="translate(130.09,1414.86) scale(1,1.0925)">-0.10</text>
<text x="0" y="0" font-family="'Liberation Sans', Arial, sans-serif" font-weight="normal" font-size="34.600" fill="#111" transform="translate(130.09,1567.71) scale(1,1.0925)">-0.20</text>
<text x="0" y="0" font-family="'Liberation Sans', Arial, sans-serif" font-weight="normal" font-size="34.600" fill="#111" transform="translate(179.28,1600.11) scale(1,1.0925)">-0.20</text>
<text x="0" y="0" font-family="'Liberation Sans', Arial, sans-serif" font-weight="normal" font-size="34.600" fill="#111" transform="translate(326.83,1600.11) scale(1,1.0925)">-0.10</text>
<text x="0" y="0" font-family="'Liberation Sans', Arial, sans-serif" font-weight="normal" font-size="34.600" fill="#111" transform="translate(479.88,1600.11) scale(1,1.0925)">0.00</text>
<text x="0" y="0" font-family="'Liberation Sans', Arial, sans-serif" font-weight="normal" font-size="34.600" fill="#111" transform="translate(626.68,1600.11) scale(1,1.0925)">0.10</text>
<text x="0" y="0" font-family="'Liberation Sans', Arial, sans-serif" font-weight="normal" font-size="34.600" fill="#111" transform="translate(773.63,1600.11) scale(1,1.0925)">0.20</text>
<text x="0" y="0" font-family="'Liberation Sans', Arial, sans-serif" font-weight="normal" font-size="35.450" fill="#111" transform="translate(462.32,1642.22) scale(1,1.0381)">X (cm)</text>
<text x="0" y="0" font-family="'Liberation Sans', Arial, sans-serif" font-weight="normal" font-size="36.000" fill="#111" transform="translate(116.00,1304.32) rotate(-90) scale(1,1.0222)">Y (cm)</text>
<rect x="847.6" y="1505.60" width="39.0" height="51.50" fill="#f03232"/>
<rect x="847.6" y="1454.70" width="39.0" height="51.50" fill="#f08832"/>
<rect x="847.6" y="1403.80" width="39.0" height="51.50" fill="#f0de32"/>
<rect x="847.6" y="1352.90" width="39.0" height="51.50" fill="#abf032"/>
<rect x="847.6" y="1302.00" width="39.0" height="51.50" fill="#55f032"/>
<rect x="847.6" y="1251.10" width="39.0" height="51.50" fill="#32f066"/>
<rect x="847.6" y="1200.20" width="39.0" height="51.50" fill="#32f0bc"/>
<rect x="847.6" y="1149.30" width="39.0" height="51.50" fill="#32cdf0"/>
<rect x="847.6" y="1098.40" width="39.0" height="51.50" fill="#3277f0"/>
<rect x="847.6" y="1047.50" width="39.0" height="51.50" fill="#4432f0"/>
<rect x="847.6" y="996.60" width="39.0" height="51.50" fill="#9a32f0"/>
<rect x="847.6" y="945.70" width="39.0" height="50.90" fill="#f032f0"/>
<text x="0" y="0" font-family="'Liberation Sans', Arial, sans-serif" font-weight="normal" font-size="34.600" fill="#111" transform="translate(896.50,956.61) scale(1,1.0925)">1055.33</text>
<text x="0" y="0" font-family="'Liberation Sans', Arial, sans-serif" font-weight="normal" font-size="34.600" fill="#111" transform="translate(896.50,1058.41) scale(1,1.0925)">1045.00</text>
<text x="0" y="0" font-family="'Liberation Sans', Arial, sans-serif" font-weight="normal" font-size="34.600" fill="#111" transform="translate(896.50,1160.21) scale(1,1.0925)">1034.66</text>
<text x="0" y="0" font-family="'Liberation Sans', Arial, sans-serif" font-weight="normal" font-size="34.600" fill="#111" transform="translate(896.50,1262.01) scale(1,1.0925)">1024.33</text>
<text x="0" y="0" font-family="'Liberation Sans', Arial, sans-serif" font-weight="normal" font-size="34.600" fill="#111" transform="translate(896.50,1363.81) scale(1,1.0925)">1013.99</text>
<text x="0" y="0" font-family="'Liberation Sans', Arial, sans-serif" font-weight="normal" font-size="34.600" fill="#111" transform="translate(896.50,1465.61) scale(1,1.0925)">1003.66</text>
<text x="0" y="0" font-family="'Liberation Sans', Arial, sans-serif" font-weight="normal" font-size="34.600" fill="#111" transform="translate(896.50,1567.41) scale(1,1.0925)">993.33</text>
<rect x="605.6" y="1614.0" width="415.0" height="77.59999999999991" fill="none" stroke="#000" stroke-width="4"/>
<text x="0" y="0" font-family="'Liberation Serif', 'Times New Roman', serif" font-weight="normal" font-size="38.904" fill="#111" transform="translate(638.10,1666.10) scale(1,0.9696)">Thickness = 102.0 nm</text>
</svg></body></html>
